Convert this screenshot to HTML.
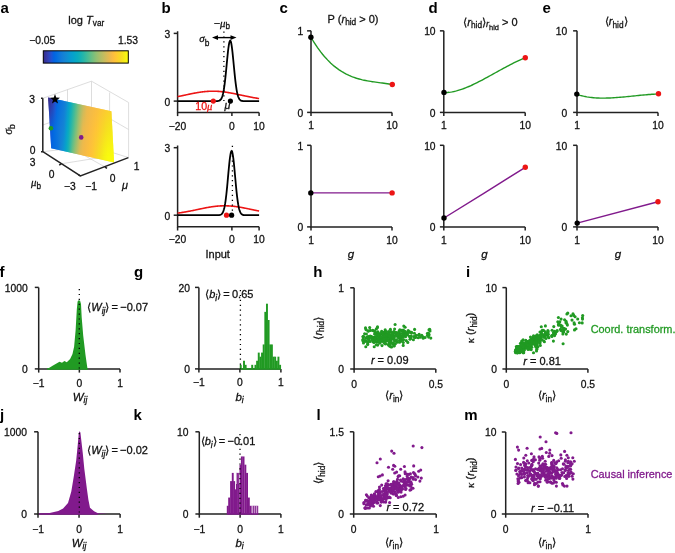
<!DOCTYPE html><html><head><meta charset="utf-8"><style>html,body{margin:0;padding:0;background:#fff;}svg{display:block;}text{font-family:"Liberation Sans", Arial, sans-serif;}text[fill="#111"]{stroke:#111;stroke-width:0.28px;}text[fill="#219a23"]{stroke:#219a23;stroke-width:0.28px;}text[fill="#811a8c"]{stroke:#811a8c;stroke-width:0.28px;}text[fill="#ec1515"]{stroke:#ec1515;stroke-width:0.28px;}</style></head><body>
<svg width="675" height="553" viewBox="0 0 675 553">
<defs><linearGradient id="cb" x1="0" y1="0" x2="1" y2="0"><stop offset="0.000" stop-color="#352a87"/><stop offset="0.031" stop-color="#3637a0"/><stop offset="0.062" stop-color="#3243ba"/><stop offset="0.094" stop-color="#2053d4"/><stop offset="0.125" stop-color="#0363e1"/><stop offset="0.156" stop-color="#046de0"/><stop offset="0.188" stop-color="#0d75dc"/><stop offset="0.219" stop-color="#127dd8"/><stop offset="0.250" stop-color="#1485d4"/><stop offset="0.281" stop-color="#108ed2"/><stop offset="0.312" stop-color="#0998d1"/><stop offset="0.344" stop-color="#06a0cd"/><stop offset="0.375" stop-color="#06a7c6"/><stop offset="0.406" stop-color="#0aacbe"/><stop offset="0.438" stop-color="#15b1b4"/><stop offset="0.469" stop-color="#25b5a9"/><stop offset="0.500" stop-color="#38b99e"/><stop offset="0.531" stop-color="#4dbc92"/><stop offset="0.562" stop-color="#65be86"/><stop offset="0.594" stop-color="#7cbf7b"/><stop offset="0.625" stop-color="#92bf73"/><stop offset="0.656" stop-color="#a5be6b"/><stop offset="0.688" stop-color="#b7bd64"/><stop offset="0.719" stop-color="#c8bc5d"/><stop offset="0.750" stop-color="#d9ba56"/><stop offset="0.781" stop-color="#e9b94e"/><stop offset="0.812" stop-color="#f8bb44"/><stop offset="0.844" stop-color="#ffc337"/><stop offset="0.875" stop-color="#fcce2e"/><stop offset="0.906" stop-color="#f7d826"/><stop offset="0.938" stop-color="#f5e41d"/><stop offset="0.969" stop-color="#f6f313"/><stop offset="1.000" stop-color="#f9fb0e"/></linearGradient>
<linearGradient id="surf" gradientUnits="userSpaceOnUse" x1="46" y1="110" x2="116" y2="138"><stop offset="0.000" stop-color="#352a87"/><stop offset="0.031" stop-color="#3637a0"/><stop offset="0.062" stop-color="#3243ba"/><stop offset="0.094" stop-color="#2053d4"/><stop offset="0.125" stop-color="#0363e1"/><stop offset="0.156" stop-color="#046de0"/><stop offset="0.188" stop-color="#0d75dc"/><stop offset="0.219" stop-color="#127dd8"/><stop offset="0.250" stop-color="#1485d4"/><stop offset="0.281" stop-color="#108ed2"/><stop offset="0.312" stop-color="#0998d1"/><stop offset="0.344" stop-color="#06a0cd"/><stop offset="0.375" stop-color="#06a7c6"/><stop offset="0.406" stop-color="#0aacbe"/><stop offset="0.438" stop-color="#15b1b4"/><stop offset="0.469" stop-color="#25b5a9"/><stop offset="0.500" stop-color="#38b99e"/><stop offset="0.531" stop-color="#4dbc92"/><stop offset="0.562" stop-color="#65be86"/><stop offset="0.594" stop-color="#7cbf7b"/><stop offset="0.625" stop-color="#92bf73"/><stop offset="0.656" stop-color="#a5be6b"/><stop offset="0.688" stop-color="#b7bd64"/><stop offset="0.719" stop-color="#c8bc5d"/><stop offset="0.750" stop-color="#d9ba56"/><stop offset="0.781" stop-color="#e9b94e"/><stop offset="0.812" stop-color="#f8bb44"/><stop offset="0.844" stop-color="#ffc337"/><stop offset="0.875" stop-color="#fcce2e"/><stop offset="0.906" stop-color="#f7d826"/><stop offset="0.938" stop-color="#f5e41d"/><stop offset="0.969" stop-color="#f6f313"/><stop offset="1.000" stop-color="#f9fb0e"/></linearGradient></defs>
<rect width="675" height="553" fill="#fff"/>
<text x="0.5" y="13" font-size="15" font-weight="bold" fill="#000">a</text>
<text x="161.5" y="13" font-size="15" font-weight="bold" fill="#000">b</text>
<text x="279.5" y="13" font-size="15" font-weight="bold" fill="#000">c</text>
<text x="428.5" y="13" font-size="15" font-weight="bold" fill="#000">d</text>
<text x="542.5" y="13" font-size="15" font-weight="bold" fill="#000">e</text>
<text x="-0.5" y="276.5" font-size="15" font-weight="bold" fill="#000">f</text>
<text x="134" y="276.5" font-size="15" font-weight="bold" fill="#000">g</text>
<text x="313.3" y="277" font-size="15" font-weight="bold" fill="#000">h</text>
<text x="466" y="277" font-size="15" font-weight="bold" fill="#000">i</text>
<text x="0" y="420" font-size="15" font-weight="bold" fill="#000">j</text>
<text x="133.5" y="420" font-size="15" font-weight="bold" fill="#000">k</text>
<text x="316.4" y="420" font-size="15" font-weight="bold" fill="#000">l</text>
<text x="464.2" y="420" font-size="15" font-weight="bold" fill="#000">m</text>
<text x="68.3" y="23.6" font-size="11" fill="#111">log <tspan font-style="italic">T</tspan><tspan font-size="8.2" dy="2.6">var</tspan></text>
<text x="42.3" y="44" font-size="10.3" text-anchor="middle" fill="#111" >−0.05</text>
<text x="128" y="44" font-size="10.3" text-anchor="middle" fill="#111" >1.53</text>
<rect x="43.3" y="50.8" width="85" height="12.3" fill="url(#cb)" stroke="#000" stroke-width="1"/>
<g stroke="#d4d4d4" stroke-width="0.8" fill="none"><path d="M42.8,98.3L91.5,81.2L128.6,102.5"/><path d="M91.5,81.2V146"/><path d="M128.6,102.5V157.6"/><path d="M67.5,89.5V146"/><path d="M109.6,92.5V156"/><path d="M42.8,125L91.5,108L128.6,129.5"/><path d="M42.8,151.7L91.5,146L128.6,157.6"/><path d="M61.2,163.8L110,156"/><path d="M105,167L67.5,146"/></g>
<clipPath id="sclip"><polygon points="48.10,97.50 111.40,111.20 114.10,162.60 51.20,148.30"/></clipPath>
<defs><linearGradient id="sg0" x1="0" y1="0" x2="0" y2="1"><stop offset="0" stop-color="#352a87"/><stop offset="0.5" stop-color="#1a56d6"/><stop offset="1" stop-color="#0860df"/></linearGradient><linearGradient id="sg1" x1="0" y1="0" x2="0" y2="1"><stop offset="0" stop-color="#352c8b"/><stop offset="0.5" stop-color="#1a56d6"/><stop offset="1" stop-color="#0860df"/></linearGradient><linearGradient id="sg2" x1="0" y1="0" x2="0" y2="1"><stop offset="0" stop-color="#363093"/><stop offset="0.5" stop-color="#1a56d6"/><stop offset="1" stop-color="#0860df"/></linearGradient><linearGradient id="sg3" x1="0" y1="0" x2="0" y2="1"><stop offset="0" stop-color="#36349b"/><stop offset="0.5" stop-color="#1559d9"/><stop offset="1" stop-color="#0462e0"/></linearGradient><linearGradient id="sg4" x1="0" y1="0" x2="0" y2="1"><stop offset="0" stop-color="#3638a3"/><stop offset="0.5" stop-color="#0a5fde"/><stop offset="1" stop-color="#0365e1"/></linearGradient><linearGradient id="sg5" x1="0" y1="0" x2="0" y2="1"><stop offset="0" stop-color="#343cab"/><stop offset="0.5" stop-color="#0364e1"/><stop offset="1" stop-color="#0467e1"/></linearGradient><linearGradient id="sg6" x1="0" y1="0" x2="0" y2="1"><stop offset="0" stop-color="#3242b8"/><stop offset="0.5" stop-color="#0468e0"/><stop offset="1" stop-color="#046ae0"/></linearGradient><linearGradient id="sg7" x1="0" y1="0" x2="0" y2="1"><stop offset="0" stop-color="#284cc8"/><stop offset="0.5" stop-color="#046ce0"/><stop offset="1" stop-color="#046ce0"/></linearGradient><linearGradient id="sg8" x1="0" y1="0" x2="0" y2="1"><stop offset="0" stop-color="#1a56d6"/><stop offset="0.5" stop-color="#066fdf"/><stop offset="1" stop-color="#066edf"/></linearGradient><linearGradient id="sg9" x1="0" y1="0" x2="0" y2="1"><stop offset="0" stop-color="#0860df"/><stop offset="0.5" stop-color="#0972de"/><stop offset="1" stop-color="#0870df"/></linearGradient><linearGradient id="sg10" x1="0" y1="0" x2="0" y2="1"><stop offset="0" stop-color="#0468e0"/><stop offset="0.5" stop-color="#0c74dd"/><stop offset="1" stop-color="#0a72de"/></linearGradient><linearGradient id="sg11" x1="0" y1="0" x2="0" y2="1"><stop offset="0" stop-color="#046ce0"/><stop offset="0.5" stop-color="#0e77db"/><stop offset="1" stop-color="#0e76dc"/></linearGradient><linearGradient id="sg12" x1="0" y1="0" x2="0" y2="1"><stop offset="0" stop-color="#076fdf"/><stop offset="0.5" stop-color="#1079da"/><stop offset="1" stop-color="#127cd8"/></linearGradient><linearGradient id="sg13" x1="0" y1="0" x2="0" y2="1"><stop offset="0" stop-color="#0972de"/><stop offset="0.5" stop-color="#127cd8"/><stop offset="1" stop-color="#1482d5"/></linearGradient><linearGradient id="sg14" x1="0" y1="0" x2="0" y2="1"><stop offset="0" stop-color="#0c74dd"/><stop offset="0.5" stop-color="#137ed7"/><stop offset="1" stop-color="#1289d3"/></linearGradient><linearGradient id="sg15" x1="0" y1="0" x2="0" y2="1"><stop offset="0" stop-color="#0e77db"/><stop offset="0.5" stop-color="#1381d6"/><stop offset="1" stop-color="#0f90d2"/></linearGradient><linearGradient id="sg16" x1="0" y1="0" x2="0" y2="1"><stop offset="0" stop-color="#1079da"/><stop offset="0.5" stop-color="#1483d5"/><stop offset="1" stop-color="#0999d1"/></linearGradient><linearGradient id="sg17" x1="0" y1="0" x2="0" y2="1"><stop offset="0" stop-color="#127cd8"/><stop offset="0.5" stop-color="#128ad3"/><stop offset="1" stop-color="#06a1cd"/></linearGradient><linearGradient id="sg18" x1="0" y1="0" x2="0" y2="1"><stop offset="0" stop-color="#1381d6"/><stop offset="0.5" stop-color="#0c94d1"/><stop offset="1" stop-color="#06a7c6"/></linearGradient><linearGradient id="sg19" x1="0" y1="0" x2="0" y2="1"><stop offset="0" stop-color="#1289d3"/><stop offset="0.5" stop-color="#079ece"/><stop offset="1" stop-color="#0aacbe"/></linearGradient><linearGradient id="sg20" x1="0" y1="0" x2="0" y2="1"><stop offset="0" stop-color="#0d93d2"/><stop offset="0.5" stop-color="#06a5c8"/><stop offset="1" stop-color="#15b0b5"/></linearGradient><linearGradient id="sg21" x1="0" y1="0" x2="0" y2="1"><stop offset="0" stop-color="#079ccf"/><stop offset="0.5" stop-color="#09abbf"/><stop offset="1" stop-color="#23b4ab"/></linearGradient><linearGradient id="sg22" x1="0" y1="0" x2="0" y2="1"><stop offset="0" stop-color="#06a3ca"/><stop offset="0.5" stop-color="#14b0b5"/><stop offset="1" stop-color="#35b8a0"/></linearGradient><linearGradient id="sg23" x1="0" y1="0" x2="0" y2="1"><stop offset="0" stop-color="#08a9c2"/><stop offset="0.5" stop-color="#21b4ac"/><stop offset="1" stop-color="#49bb94"/></linearGradient><linearGradient id="sg24" x1="0" y1="0" x2="0" y2="1"><stop offset="0" stop-color="#0faeba"/><stop offset="0.5" stop-color="#2eb7a4"/><stop offset="1" stop-color="#5fbe89"/></linearGradient><linearGradient id="sg25" x1="0" y1="0" x2="0" y2="1"><stop offset="0" stop-color="#1cb2b0"/><stop offset="0.5" stop-color="#3dba9b"/><stop offset="1" stop-color="#76bf7e"/></linearGradient><linearGradient id="sg26" x1="0" y1="0" x2="0" y2="1"><stop offset="0" stop-color="#28b6a8"/><stop offset="0.5" stop-color="#4dbc92"/><stop offset="1" stop-color="#89bf76"/></linearGradient><linearGradient id="sg27" x1="0" y1="0" x2="0" y2="1"><stop offset="0" stop-color="#35b89f"/><stop offset="0.5" stop-color="#5ebe89"/><stop offset="1" stop-color="#9abf6f"/></linearGradient><linearGradient id="sg28" x1="0" y1="0" x2="0" y2="1"><stop offset="0" stop-color="#45bb96"/><stop offset="0.5" stop-color="#70bf81"/><stop offset="1" stop-color="#aabe69"/></linearGradient><linearGradient id="sg29" x1="0" y1="0" x2="0" y2="1"><stop offset="0" stop-color="#55bd8d"/><stop offset="0.5" stop-color="#80bf7a"/><stop offset="1" stop-color="#b9bd63"/></linearGradient><linearGradient id="sg30" x1="0" y1="0" x2="0" y2="1"><stop offset="0" stop-color="#67be85"/><stop offset="0.5" stop-color="#93bf72"/><stop offset="1" stop-color="#c7bc5d"/></linearGradient><linearGradient id="sg31" x1="0" y1="0" x2="0" y2="1"><stop offset="0" stop-color="#78bf7d"/><stop offset="0.5" stop-color="#a5be6b"/><stop offset="1" stop-color="#d4bb58"/></linearGradient><linearGradient id="sg32" x1="0" y1="0" x2="0" y2="1"><stop offset="0" stop-color="#88bf76"/><stop offset="0.5" stop-color="#b5bd65"/><stop offset="1" stop-color="#e2ba52"/></linearGradient><linearGradient id="sg33" x1="0" y1="0" x2="0" y2="1"><stop offset="0" stop-color="#97bf70"/><stop offset="0.5" stop-color="#c4bc5e"/><stop offset="1" stop-color="#eab94e"/></linearGradient><linearGradient id="sg34" x1="0" y1="0" x2="0" y2="1"><stop offset="0" stop-color="#a5be6b"/><stop offset="0.5" stop-color="#d3bb58"/><stop offset="1" stop-color="#edb94c"/></linearGradient><linearGradient id="sg35" x1="0" y1="0" x2="0" y2="1"><stop offset="0" stop-color="#b2bd66"/><stop offset="0.5" stop-color="#e1ba52"/><stop offset="1" stop-color="#f0ba4a"/></linearGradient><linearGradient id="sg36" x1="0" y1="0" x2="0" y2="1"><stop offset="0" stop-color="#bfbc61"/><stop offset="0.5" stop-color="#eab94e"/><stop offset="1" stop-color="#f2ba48"/></linearGradient><linearGradient id="sg37" x1="0" y1="0" x2="0" y2="1"><stop offset="0" stop-color="#cbbb5c"/><stop offset="0.5" stop-color="#ecb94c"/><stop offset="1" stop-color="#f5ba46"/></linearGradient><linearGradient id="sg38" x1="0" y1="0" x2="0" y2="1"><stop offset="0" stop-color="#d7ba57"/><stop offset="0.5" stop-color="#efba4a"/><stop offset="1" stop-color="#f8ba44"/></linearGradient><linearGradient id="sg39" x1="0" y1="0" x2="0" y2="1"><stop offset="0" stop-color="#e3b951"/><stop offset="0.5" stop-color="#f1ba49"/><stop offset="1" stop-color="#f9bc42"/></linearGradient><linearGradient id="sg40" x1="0" y1="0" x2="0" y2="1"><stop offset="0" stop-color="#e9b94e"/><stop offset="0.5" stop-color="#f3ba47"/><stop offset="1" stop-color="#fbbe3f"/></linearGradient><linearGradient id="sg41" x1="0" y1="0" x2="0" y2="1"><stop offset="0" stop-color="#ebb94d"/><stop offset="0.5" stop-color="#f6ba46"/><stop offset="1" stop-color="#fcbf3d"/></linearGradient><linearGradient id="sg42" x1="0" y1="0" x2="0" y2="1"><stop offset="0" stop-color="#edb94c"/><stop offset="0.5" stop-color="#f8bb44"/><stop offset="1" stop-color="#fdc13b"/></linearGradient><linearGradient id="sg43" x1="0" y1="0" x2="0" y2="1"><stop offset="0" stop-color="#eeba4b"/><stop offset="0.5" stop-color="#f9bc42"/><stop offset="1" stop-color="#fec238"/></linearGradient><linearGradient id="sg44" x1="0" y1="0" x2="0" y2="1"><stop offset="0" stop-color="#f0ba49"/><stop offset="0.5" stop-color="#fabd40"/><stop offset="1" stop-color="#fec436"/></linearGradient><linearGradient id="sg45" x1="0" y1="0" x2="0" y2="1"><stop offset="0" stop-color="#f2ba48"/><stop offset="0.5" stop-color="#fbbf3e"/><stop offset="1" stop-color="#fec734"/></linearGradient><linearGradient id="sg46" x1="0" y1="0" x2="0" y2="1"><stop offset="0" stop-color="#f4ba47"/><stop offset="0.5" stop-color="#fcc03c"/><stop offset="1" stop-color="#fdca31"/></linearGradient><linearGradient id="sg47" x1="0" y1="0" x2="0" y2="1"><stop offset="0" stop-color="#f5ba46"/><stop offset="0.5" stop-color="#fdc13a"/><stop offset="1" stop-color="#fcce2e"/></linearGradient><linearGradient id="sg48" x1="0" y1="0" x2="0" y2="1"><stop offset="0" stop-color="#f7ba45"/><stop offset="0.5" stop-color="#fec338"/><stop offset="1" stop-color="#fad12b"/></linearGradient><linearGradient id="sg49" x1="0" y1="0" x2="0" y2="1"><stop offset="0" stop-color="#f8bb44"/><stop offset="0.5" stop-color="#fec436"/><stop offset="1" stop-color="#f9d429"/></linearGradient><linearGradient id="sg50" x1="0" y1="0" x2="0" y2="1"><stop offset="0" stop-color="#f9bc42"/><stop offset="0.5" stop-color="#fec734"/><stop offset="1" stop-color="#f7d826"/></linearGradient><linearGradient id="sg51" x1="0" y1="0" x2="0" y2="1"><stop offset="0" stop-color="#fabd41"/><stop offset="0.5" stop-color="#fdc932"/><stop offset="1" stop-color="#f7dc23"/></linearGradient><linearGradient id="sg52" x1="0" y1="0" x2="0" y2="1"><stop offset="0" stop-color="#fbbe3f"/><stop offset="0.5" stop-color="#fccc2f"/><stop offset="1" stop-color="#f6df20"/></linearGradient><linearGradient id="sg53" x1="0" y1="0" x2="0" y2="1"><stop offset="0" stop-color="#fbbf3e"/><stop offset="0.5" stop-color="#fcce2d"/><stop offset="1" stop-color="#f5e31e"/></linearGradient><linearGradient id="sg54" x1="0" y1="0" x2="0" y2="1"><stop offset="0" stop-color="#fcbf3d"/><stop offset="0.5" stop-color="#fad12b"/><stop offset="1" stop-color="#f5e71b"/></linearGradient><linearGradient id="sg55" x1="0" y1="0" x2="0" y2="1"><stop offset="0" stop-color="#fdc03b"/><stop offset="0.5" stop-color="#f9d429"/><stop offset="1" stop-color="#f5eb18"/></linearGradient><linearGradient id="sg56" x1="0" y1="0" x2="0" y2="1"><stop offset="0" stop-color="#fdc13a"/><stop offset="0.5" stop-color="#f8d627"/><stop offset="1" stop-color="#f6ef16"/></linearGradient><linearGradient id="sg57" x1="0" y1="0" x2="0" y2="1"><stop offset="0" stop-color="#fec238"/><stop offset="0.5" stop-color="#f7d925"/><stop offset="1" stop-color="#f6f313"/></linearGradient><linearGradient id="sg58" x1="0" y1="0" x2="0" y2="1"><stop offset="0" stop-color="#ffc337"/><stop offset="0.5" stop-color="#f6dc23"/><stop offset="1" stop-color="#f7f512"/></linearGradient><linearGradient id="sg59" x1="0" y1="0" x2="0" y2="1"><stop offset="0" stop-color="#fec536"/><stop offset="0.5" stop-color="#f6de21"/><stop offset="1" stop-color="#f8f710"/></linearGradient><linearGradient id="sg60" x1="0" y1="0" x2="0" y2="1"><stop offset="0" stop-color="#fec635"/><stop offset="0.5" stop-color="#f5e020"/><stop offset="1" stop-color="#f9fa0e"/></linearGradient><linearGradient id="sg61" x1="0" y1="0" x2="0" y2="1"><stop offset="0" stop-color="#fec734"/><stop offset="0.5" stop-color="#f5e21f"/><stop offset="1" stop-color="#f9fb0e"/></linearGradient><linearGradient id="sg62" x1="0" y1="0" x2="0" y2="1"><stop offset="0" stop-color="#fdc833"/><stop offset="0.5" stop-color="#f5e31d"/><stop offset="1" stop-color="#f9fb0e"/></linearGradient><linearGradient id="sg63" x1="0" y1="0" x2="0" y2="1"><stop offset="0" stop-color="#fdc932"/><stop offset="0.5" stop-color="#f5e51c"/><stop offset="1" stop-color="#f9fb0e"/></linearGradient><linearGradient id="sg64" x1="0" y1="0" x2="0" y2="1"><stop offset="0" stop-color="#fdca31"/><stop offset="0.5" stop-color="#f5e71b"/><stop offset="1" stop-color="#f9fb0e"/></linearGradient><linearGradient id="sg65" x1="0" y1="0" x2="0" y2="1"><stop offset="0" stop-color="#fdca31"/><stop offset="0.5" stop-color="#f5e919"/><stop offset="1" stop-color="#f9fb0e"/></linearGradient><linearGradient id="sg66" x1="0" y1="0" x2="0" y2="1"><stop offset="0" stop-color="#fdcb30"/><stop offset="0.5" stop-color="#f5eb18"/><stop offset="1" stop-color="#f9fb0e"/></linearGradient><linearGradient id="sg67" x1="0" y1="0" x2="0" y2="1"><stop offset="0" stop-color="#fccc30"/><stop offset="0.5" stop-color="#f6ee17"/><stop offset="1" stop-color="#f9fb0e"/></linearGradient></defs>
<g clip-path="url(#sclip)"><rect x="47.00" y="100" width="1.7" height="56" fill="url(#sg0)"/><rect x="48.00" y="100" width="1.7" height="56" fill="url(#sg1)"/><rect x="49.00" y="100" width="1.7" height="56" fill="url(#sg2)"/><rect x="50.00" y="100" width="1.7" height="56" fill="url(#sg3)"/><rect x="51.00" y="100" width="1.7" height="56" fill="url(#sg4)"/><rect x="52.00" y="100" width="1.7" height="56" fill="url(#sg5)"/><rect x="53.00" y="100" width="1.7" height="56" fill="url(#sg6)"/><rect x="54.00" y="100" width="1.7" height="56" fill="url(#sg7)"/><rect x="55.00" y="100" width="1.7" height="56" fill="url(#sg8)"/><rect x="56.00" y="100" width="1.7" height="56" fill="url(#sg9)"/><rect x="57.00" y="100" width="1.7" height="56" fill="url(#sg10)"/><rect x="58.00" y="100" width="1.7" height="56" fill="url(#sg11)"/><rect x="59.00" y="100" width="1.7" height="56" fill="url(#sg12)"/><rect x="60.00" y="100" width="1.7" height="56" fill="url(#sg13)"/><rect x="61.00" y="100" width="1.7" height="56" fill="url(#sg14)"/><rect x="62.00" y="100" width="1.7" height="56" fill="url(#sg15)"/><rect x="63.00" y="100" width="1.7" height="56" fill="url(#sg16)"/><rect x="64.00" y="100" width="1.7" height="56" fill="url(#sg17)"/><rect x="65.00" y="100" width="1.7" height="56" fill="url(#sg18)"/><rect x="66.00" y="100" width="1.7" height="56" fill="url(#sg19)"/><rect x="67.00" y="100" width="1.7" height="56" fill="url(#sg20)"/><rect x="68.00" y="100" width="1.7" height="56" fill="url(#sg21)"/><rect x="69.00" y="100" width="1.7" height="56" fill="url(#sg22)"/><rect x="70.00" y="100" width="1.7" height="56" fill="url(#sg23)"/><rect x="71.00" y="100" width="1.7" height="56" fill="url(#sg24)"/><rect x="72.00" y="100" width="1.7" height="56" fill="url(#sg25)"/><rect x="73.00" y="100" width="1.7" height="56" fill="url(#sg26)"/><rect x="74.00" y="100" width="1.7" height="56" fill="url(#sg27)"/><rect x="75.00" y="100" width="1.7" height="56" fill="url(#sg28)"/><rect x="76.00" y="100" width="1.7" height="56" fill="url(#sg29)"/><rect x="77.00" y="100" width="1.7" height="56" fill="url(#sg30)"/><rect x="78.00" y="100" width="1.7" height="56" fill="url(#sg31)"/><rect x="79.00" y="100" width="1.7" height="56" fill="url(#sg32)"/><rect x="80.00" y="100" width="1.7" height="56" fill="url(#sg33)"/><rect x="81.00" y="100" width="1.7" height="56" fill="url(#sg34)"/><rect x="82.00" y="100" width="1.7" height="56" fill="url(#sg35)"/><rect x="83.00" y="100" width="1.7" height="56" fill="url(#sg36)"/><rect x="84.00" y="100" width="1.7" height="56" fill="url(#sg37)"/><rect x="85.00" y="100" width="1.7" height="56" fill="url(#sg38)"/><rect x="86.00" y="100" width="1.7" height="56" fill="url(#sg39)"/><rect x="87.00" y="100" width="1.7" height="56" fill="url(#sg40)"/><rect x="88.00" y="100" width="1.7" height="56" fill="url(#sg41)"/><rect x="89.00" y="100" width="1.7" height="56" fill="url(#sg42)"/><rect x="90.00" y="100" width="1.7" height="56" fill="url(#sg43)"/><rect x="91.00" y="100" width="1.7" height="56" fill="url(#sg44)"/><rect x="92.00" y="100" width="1.7" height="56" fill="url(#sg45)"/><rect x="93.00" y="100" width="1.7" height="56" fill="url(#sg46)"/><rect x="94.00" y="100" width="1.7" height="56" fill="url(#sg47)"/><rect x="95.00" y="100" width="1.7" height="56" fill="url(#sg48)"/><rect x="96.00" y="100" width="1.7" height="56" fill="url(#sg49)"/><rect x="97.00" y="100" width="1.7" height="56" fill="url(#sg50)"/><rect x="98.00" y="100" width="1.7" height="56" fill="url(#sg51)"/><rect x="99.00" y="100" width="1.7" height="56" fill="url(#sg52)"/><rect x="100.00" y="100" width="1.7" height="56" fill="url(#sg53)"/><rect x="101.00" y="100" width="1.7" height="56" fill="url(#sg54)"/><rect x="102.00" y="100" width="1.7" height="56" fill="url(#sg55)"/><rect x="103.00" y="100" width="1.7" height="56" fill="url(#sg56)"/><rect x="104.00" y="100" width="1.7" height="56" fill="url(#sg57)"/><rect x="105.00" y="100" width="1.7" height="56" fill="url(#sg58)"/><rect x="106.00" y="100" width="1.7" height="56" fill="url(#sg59)"/><rect x="107.00" y="100" width="1.7" height="56" fill="url(#sg60)"/><rect x="108.00" y="100" width="1.7" height="56" fill="url(#sg61)"/><rect x="109.00" y="100" width="1.7" height="56" fill="url(#sg62)"/><rect x="110.00" y="100" width="1.7" height="56" fill="url(#sg63)"/><rect x="111.00" y="100" width="1.7" height="56" fill="url(#sg64)"/><rect x="112.00" y="100" width="1.7" height="56" fill="url(#sg65)"/><rect x="113.00" y="100" width="1.7" height="56" fill="url(#sg66)"/><rect x="114.00" y="100" width="1.7" height="56" fill="url(#sg67)"/><rect x="47.00" y="95" width="1.7" height="5.2" fill="#352a87"/><rect x="47.00" y="155.8" width="1.7" height="8" fill="#0860df"/><rect x="48.00" y="95" width="1.7" height="5.2" fill="#352c8b"/><rect x="48.00" y="155.8" width="1.7" height="8" fill="#0860df"/><rect x="49.00" y="95" width="1.7" height="5.2" fill="#363093"/><rect x="49.00" y="155.8" width="1.7" height="8" fill="#0860df"/><rect x="50.00" y="95" width="1.7" height="5.2" fill="#36349b"/><rect x="50.00" y="155.8" width="1.7" height="8" fill="#0462e0"/><rect x="51.00" y="95" width="1.7" height="5.2" fill="#3638a3"/><rect x="51.00" y="155.8" width="1.7" height="8" fill="#0365e1"/><rect x="52.00" y="95" width="1.7" height="5.2" fill="#343cab"/><rect x="52.00" y="155.8" width="1.7" height="8" fill="#0467e1"/><rect x="53.00" y="95" width="1.7" height="5.2" fill="#3242b8"/><rect x="53.00" y="155.8" width="1.7" height="8" fill="#046ae0"/><rect x="54.00" y="95" width="1.7" height="5.2" fill="#284cc8"/><rect x="54.00" y="155.8" width="1.7" height="8" fill="#046ce0"/><rect x="55.00" y="95" width="1.7" height="5.2" fill="#1a56d6"/><rect x="55.00" y="155.8" width="1.7" height="8" fill="#066edf"/><rect x="56.00" y="95" width="1.7" height="5.2" fill="#0860df"/><rect x="56.00" y="155.8" width="1.7" height="8" fill="#0870df"/><rect x="57.00" y="95" width="1.7" height="5.2" fill="#0468e0"/><rect x="57.00" y="155.8" width="1.7" height="8" fill="#0a72de"/><rect x="58.00" y="95" width="1.7" height="5.2" fill="#046ce0"/><rect x="58.00" y="155.8" width="1.7" height="8" fill="#0e76dc"/><rect x="59.00" y="95" width="1.7" height="5.2" fill="#076fdf"/><rect x="59.00" y="155.8" width="1.7" height="8" fill="#127cd8"/><rect x="60.00" y="95" width="1.7" height="5.2" fill="#0972de"/><rect x="60.00" y="155.8" width="1.7" height="8" fill="#1482d5"/><rect x="61.00" y="95" width="1.7" height="5.2" fill="#0c74dd"/><rect x="61.00" y="155.8" width="1.7" height="8" fill="#1289d3"/><rect x="62.00" y="95" width="1.7" height="5.2" fill="#0e77db"/><rect x="62.00" y="155.8" width="1.7" height="8" fill="#0f90d2"/><rect x="63.00" y="95" width="1.7" height="5.2" fill="#1079da"/><rect x="63.00" y="155.8" width="1.7" height="8" fill="#0999d1"/><rect x="64.00" y="95" width="1.7" height="5.2" fill="#127cd8"/><rect x="64.00" y="155.8" width="1.7" height="8" fill="#06a1cd"/><rect x="65.00" y="95" width="1.7" height="5.2" fill="#1381d6"/><rect x="65.00" y="155.8" width="1.7" height="8" fill="#06a7c6"/><rect x="66.00" y="95" width="1.7" height="5.2" fill="#1289d3"/><rect x="66.00" y="155.8" width="1.7" height="8" fill="#0aacbe"/><rect x="67.00" y="95" width="1.7" height="5.2" fill="#0d93d2"/><rect x="67.00" y="155.8" width="1.7" height="8" fill="#15b0b5"/><rect x="68.00" y="95" width="1.7" height="5.2" fill="#079ccf"/><rect x="68.00" y="155.8" width="1.7" height="8" fill="#23b4ab"/><rect x="69.00" y="95" width="1.7" height="5.2" fill="#06a3ca"/><rect x="69.00" y="155.8" width="1.7" height="8" fill="#35b8a0"/><rect x="70.00" y="95" width="1.7" height="5.2" fill="#08a9c2"/><rect x="70.00" y="155.8" width="1.7" height="8" fill="#49bb94"/><rect x="71.00" y="95" width="1.7" height="5.2" fill="#0faeba"/><rect x="71.00" y="155.8" width="1.7" height="8" fill="#5fbe89"/><rect x="72.00" y="95" width="1.7" height="5.2" fill="#1cb2b0"/><rect x="72.00" y="155.8" width="1.7" height="8" fill="#76bf7e"/><rect x="73.00" y="95" width="1.7" height="5.2" fill="#28b6a8"/><rect x="73.00" y="155.8" width="1.7" height="8" fill="#89bf76"/><rect x="74.00" y="95" width="1.7" height="5.2" fill="#35b89f"/><rect x="74.00" y="155.8" width="1.7" height="8" fill="#9abf6f"/><rect x="75.00" y="95" width="1.7" height="5.2" fill="#45bb96"/><rect x="75.00" y="155.8" width="1.7" height="8" fill="#aabe69"/><rect x="76.00" y="95" width="1.7" height="5.2" fill="#55bd8d"/><rect x="76.00" y="155.8" width="1.7" height="8" fill="#b9bd63"/><rect x="77.00" y="95" width="1.7" height="5.2" fill="#67be85"/><rect x="77.00" y="155.8" width="1.7" height="8" fill="#c7bc5d"/><rect x="78.00" y="95" width="1.7" height="5.2" fill="#78bf7d"/><rect x="78.00" y="155.8" width="1.7" height="8" fill="#d4bb58"/><rect x="79.00" y="95" width="1.7" height="5.2" fill="#88bf76"/><rect x="79.00" y="155.8" width="1.7" height="8" fill="#e2ba52"/><rect x="80.00" y="95" width="1.7" height="5.2" fill="#97bf70"/><rect x="80.00" y="155.8" width="1.7" height="8" fill="#eab94e"/><rect x="81.00" y="95" width="1.7" height="5.2" fill="#a5be6b"/><rect x="81.00" y="155.8" width="1.7" height="8" fill="#edb94c"/><rect x="82.00" y="95" width="1.7" height="5.2" fill="#b2bd66"/><rect x="82.00" y="155.8" width="1.7" height="8" fill="#f0ba4a"/><rect x="83.00" y="95" width="1.7" height="5.2" fill="#bfbc61"/><rect x="83.00" y="155.8" width="1.7" height="8" fill="#f2ba48"/><rect x="84.00" y="95" width="1.7" height="5.2" fill="#cbbb5c"/><rect x="84.00" y="155.8" width="1.7" height="8" fill="#f5ba46"/><rect x="85.00" y="95" width="1.7" height="5.2" fill="#d7ba57"/><rect x="85.00" y="155.8" width="1.7" height="8" fill="#f8ba44"/><rect x="86.00" y="95" width="1.7" height="5.2" fill="#e3b951"/><rect x="86.00" y="155.8" width="1.7" height="8" fill="#f9bc42"/><rect x="87.00" y="95" width="1.7" height="5.2" fill="#e9b94e"/><rect x="87.00" y="155.8" width="1.7" height="8" fill="#fbbe3f"/><rect x="88.00" y="95" width="1.7" height="5.2" fill="#ebb94d"/><rect x="88.00" y="155.8" width="1.7" height="8" fill="#fcbf3d"/><rect x="89.00" y="95" width="1.7" height="5.2" fill="#edb94c"/><rect x="89.00" y="155.8" width="1.7" height="8" fill="#fdc13b"/><rect x="90.00" y="95" width="1.7" height="5.2" fill="#eeba4b"/><rect x="90.00" y="155.8" width="1.7" height="8" fill="#fec238"/><rect x="91.00" y="95" width="1.7" height="5.2" fill="#f0ba49"/><rect x="91.00" y="155.8" width="1.7" height="8" fill="#fec436"/><rect x="92.00" y="95" width="1.7" height="5.2" fill="#f2ba48"/><rect x="92.00" y="155.8" width="1.7" height="8" fill="#fec734"/><rect x="93.00" y="95" width="1.7" height="5.2" fill="#f4ba47"/><rect x="93.00" y="155.8" width="1.7" height="8" fill="#fdca31"/><rect x="94.00" y="95" width="1.7" height="5.2" fill="#f5ba46"/><rect x="94.00" y="155.8" width="1.7" height="8" fill="#fcce2e"/><rect x="95.00" y="95" width="1.7" height="5.2" fill="#f7ba45"/><rect x="95.00" y="155.8" width="1.7" height="8" fill="#fad12b"/><rect x="96.00" y="95" width="1.7" height="5.2" fill="#f8bb44"/><rect x="96.00" y="155.8" width="1.7" height="8" fill="#f9d429"/><rect x="97.00" y="95" width="1.7" height="5.2" fill="#f9bc42"/><rect x="97.00" y="155.8" width="1.7" height="8" fill="#f7d826"/><rect x="98.00" y="95" width="1.7" height="5.2" fill="#fabd41"/><rect x="98.00" y="155.8" width="1.7" height="8" fill="#f7dc23"/><rect x="99.00" y="95" width="1.7" height="5.2" fill="#fbbe3f"/><rect x="99.00" y="155.8" width="1.7" height="8" fill="#f6df20"/><rect x="100.00" y="95" width="1.7" height="5.2" fill="#fbbf3e"/><rect x="100.00" y="155.8" width="1.7" height="8" fill="#f5e31e"/><rect x="101.00" y="95" width="1.7" height="5.2" fill="#fcbf3d"/><rect x="101.00" y="155.8" width="1.7" height="8" fill="#f5e71b"/><rect x="102.00" y="95" width="1.7" height="5.2" fill="#fdc03b"/><rect x="102.00" y="155.8" width="1.7" height="8" fill="#f5eb18"/><rect x="103.00" y="95" width="1.7" height="5.2" fill="#fdc13a"/><rect x="103.00" y="155.8" width="1.7" height="8" fill="#f6ef16"/><rect x="104.00" y="95" width="1.7" height="5.2" fill="#fec238"/><rect x="104.00" y="155.8" width="1.7" height="8" fill="#f6f313"/><rect x="105.00" y="95" width="1.7" height="5.2" fill="#ffc337"/><rect x="105.00" y="155.8" width="1.7" height="8" fill="#f7f512"/><rect x="106.00" y="95" width="1.7" height="5.2" fill="#fec536"/><rect x="106.00" y="155.8" width="1.7" height="8" fill="#f8f710"/><rect x="107.00" y="95" width="1.7" height="5.2" fill="#fec635"/><rect x="107.00" y="155.8" width="1.7" height="8" fill="#f9fa0e"/><rect x="108.00" y="95" width="1.7" height="5.2" fill="#fec734"/><rect x="108.00" y="155.8" width="1.7" height="8" fill="#f9fb0e"/><rect x="109.00" y="95" width="1.7" height="5.2" fill="#fdc833"/><rect x="109.00" y="155.8" width="1.7" height="8" fill="#f9fb0e"/><rect x="110.00" y="95" width="1.7" height="5.2" fill="#fdc932"/><rect x="110.00" y="155.8" width="1.7" height="8" fill="#f9fb0e"/><rect x="111.00" y="95" width="1.7" height="5.2" fill="#fdca31"/><rect x="111.00" y="155.8" width="1.7" height="8" fill="#f9fb0e"/><rect x="112.00" y="95" width="1.7" height="5.2" fill="#fdca31"/><rect x="112.00" y="155.8" width="1.7" height="8" fill="#f9fb0e"/><rect x="113.00" y="95" width="1.7" height="5.2" fill="#fdcb30"/><rect x="113.00" y="155.8" width="1.7" height="8" fill="#f9fb0e"/><rect x="114.00" y="95" width="1.7" height="5.2" fill="#fccc30"/><rect x="114.00" y="155.8" width="1.7" height="8" fill="#f9fb0e"/></g>
<path d="M42.8,98.3V151.7L80.4,175.9L128.4,157.6" fill="none" stroke="#222" stroke-width="1.5"/>
<path d="M42.8,98.3h-1.8M42.8,151.7h-1.8M61.2,163.8l-2,1.3M105,167l2,1.3M80.4,175.9l-2,-1" stroke="#222" stroke-width="1.5"/>
<text x="32.2" y="102.7" font-size="10.3" text-anchor="middle" fill="#111" >3</text>
<text x="32.7" y="154" font-size="10.3" text-anchor="middle" fill="#111" >0</text>
<text x="32.7" y="165.6" font-size="10.3" text-anchor="middle" fill="#111" >3</text>
<text x="51.7" y="177.6" font-size="10.3" text-anchor="middle" fill="#111" >0</text>
<text x="69.8" y="189.6" font-size="10.3" text-anchor="middle" fill="#111" >−3</text>
<text x="91" y="189.6" font-size="10.3" text-anchor="middle" fill="#111" >−1</text>
<text x="112.7" y="181.6" font-size="10.3" text-anchor="middle" fill="#111" >0</text>
<text x="136.5" y="170" font-size="10.3" text-anchor="middle" fill="#111" >1</text>
<text x="31" y="186.3" font-size="10.8" fill="#111"><tspan font-family="Liberation Serif" font-style="italic">μ</tspan><tspan font-size="8.2" dy="2.7">b</tspan></text>
<text x="122" y="189.2" font-size="10.8" fill="#111" font-family="Liberation Serif" font-style="italic">μ</text>
<text transform="translate(12.4,134.6) rotate(-90)" font-size="11.5" fill="#111"><tspan font-family="Liberation Serif" font-style="italic">σ</tspan><tspan font-size="8.6" dy="3">b</tspan></text>
<polygon points="55.00,94.10 56.23,97.60 59.95,97.69 57.00,99.95 58.06,103.51 55.00,101.40 51.94,103.51 53.00,99.95 50.05,97.69 53.77,97.60" fill="#000"/>
<circle cx="50.9" cy="128.2" r="2.3" fill="#219a23"/>
<circle cx="81.2" cy="137.4" r="2.3" fill="#811a8c"/>
<path d="M177.6,31.2V112.4H259.1" fill="none" stroke="#222" stroke-width="1.5"/>
<path d="M177.6,112.4v3.7" stroke="#222" stroke-width="1.5"/>
<text x="177.6" y="129.6" font-size="10.3" text-anchor="middle" fill="#111" >−20</text>
<path d="M231.9,112.4v3.7" stroke="#222" stroke-width="1.5"/>
<text x="231.9" y="129.6" font-size="10.3" text-anchor="middle" fill="#111" >0</text>
<path d="M259.1,112.4v3.7" stroke="#222" stroke-width="1.5"/>
<text x="259.1" y="129.6" font-size="10.3" text-anchor="middle" fill="#111" >10</text>
<path d="M177.6,33.4h-3.9" stroke="#222" stroke-width="1.5"/>
<text x="170.29999999999998" y="37.8" font-size="10.3" text-anchor="end" fill="#111" >3</text>
<path d="M177.6,101.1h-3.9" stroke="#222" stroke-width="1.5"/>
<text x="170.29999999999998" y="105.5" font-size="10.3" text-anchor="end" fill="#111" >0</text>
<path d="M177.60,96.65 L178.01,96.57 L178.42,96.48 L178.83,96.40 L179.24,96.31 L179.65,96.23 L180.06,96.14 L180.47,96.06 L180.88,95.97 L181.29,95.89 L181.70,95.80 L182.11,95.71 L182.51,95.63 L182.92,95.54 L183.33,95.45 L183.74,95.36 L184.15,95.28 L184.56,95.19 L184.97,95.10 L185.38,95.01 L185.79,94.93 L186.20,94.84 L186.61,94.75 L187.02,94.66 L187.43,94.58 L187.84,94.49 L188.25,94.40 L188.66,94.32 L189.07,94.23 L189.48,94.14 L189.89,94.06 L190.30,93.97 L190.71,93.89 L191.12,93.81 L191.52,93.72 L191.93,93.64 L192.34,93.56 L192.75,93.48 L193.16,93.40 L193.57,93.32 L193.98,93.24 L194.39,93.16 L194.80,93.09 L195.21,93.01 L195.62,92.93 L196.03,92.86 L196.44,92.79 L196.85,92.72 L197.26,92.65 L197.67,92.58 L198.08,92.51 L198.49,92.44 L198.90,92.38 L199.31,92.32 L199.72,92.25 L200.13,92.19 L200.53,92.13 L200.94,92.08 L201.35,92.02 L201.76,91.97 L202.17,91.91 L202.58,91.86 L202.99,91.81 L203.40,91.76 L203.81,91.72 L204.22,91.67 L204.63,91.63 L205.04,91.59 L205.45,91.55 L205.86,91.52 L206.27,91.48 L206.68,91.45 L207.09,91.42 L207.50,91.39 L207.91,91.36 L208.32,91.34 L208.73,91.31 L209.14,91.29 L209.54,91.28 L209.95,91.26 L210.36,91.24 L210.77,91.23 L211.18,91.22 L211.59,91.21 L212.00,91.21 L212.41,91.20 L212.82,91.20 L213.23,91.20 L213.64,91.20 L214.05,91.21 L214.46,91.21 L214.87,91.22 L215.28,91.23 L215.69,91.25 L216.10,91.26 L216.51,91.28 L216.92,91.30 L217.33,91.32 L217.74,91.34 L218.15,91.37 L218.55,91.39 L218.96,91.42 L219.37,91.45 L219.78,91.49 L220.19,91.52 L220.60,91.56 L221.01,91.60 L221.42,91.64 L221.83,91.68 L222.24,91.72 L222.65,91.77 L223.06,91.82 L223.47,91.87 L223.88,91.92 L224.29,91.97 L224.70,92.03 L225.11,92.08 L225.52,92.14 L225.93,92.20 L226.34,92.26 L226.75,92.32 L227.16,92.39 L227.56,92.45 L227.97,92.52 L228.38,92.59 L228.79,92.66 L229.20,92.73 L229.61,92.80 L230.02,92.87 L230.43,92.94 L230.84,93.02 L231.25,93.09 L231.66,93.17 L232.07,93.25 L232.48,93.33 L232.89,93.41 L233.30,93.49 L233.71,93.57 L234.12,93.65 L234.53,93.73 L234.94,93.82 L235.35,93.90 L235.76,93.98 L236.17,94.07 L236.57,94.15 L236.98,94.24 L237.39,94.33 L237.80,94.41 L238.21,94.50 L238.62,94.59 L239.03,94.67 L239.44,94.76 L239.85,94.85 L240.26,94.94 L240.67,95.02 L241.08,95.11 L241.49,95.20 L241.90,95.29 L242.31,95.38 L242.72,95.46 L243.13,95.55 L243.54,95.64 L243.95,95.73 L244.36,95.81 L244.77,95.90 L245.18,95.98 L245.58,96.07 L245.99,96.16 L246.40,96.24 L246.81,96.33 L247.22,96.41 L247.63,96.49 L248.04,96.58 L248.45,96.66 L248.86,96.74 L249.27,96.82 L249.68,96.90 L250.09,96.98 L250.50,97.06 L250.91,97.14 L251.32,97.22 L251.73,97.30 L252.14,97.37 L252.55,97.45 L252.96,97.52 L253.37,97.60 L253.78,97.67 L254.19,97.74 L254.59,97.82 L255.00,97.89 L255.41,97.96 L255.82,98.03 L256.23,98.09 L256.64,98.16 L257.05,98.23 L257.46,98.29 L257.87,98.36 L258.28,98.42 L258.69,98.49 L259.10,98.55" fill="none" stroke="#ec1515" stroke-width="1.6"/>
<path d="M177.60,101.10 L178.01,101.10 L178.42,101.10 L178.83,101.10 L179.24,101.10 L179.65,101.10 L180.06,101.10 L180.47,101.10 L180.88,101.10 L181.29,101.10 L181.70,101.10 L182.11,101.10 L182.51,101.10 L182.92,101.10 L183.33,101.10 L183.74,101.10 L184.15,101.10 L184.56,101.10 L184.97,101.10 L185.38,101.10 L185.79,101.10 L186.20,101.10 L186.61,101.10 L187.02,101.10 L187.43,101.10 L187.84,101.10 L188.25,101.10 L188.66,101.10 L189.07,101.10 L189.48,101.10 L189.89,101.10 L190.30,101.10 L190.71,101.10 L191.12,101.10 L191.52,101.10 L191.93,101.10 L192.34,101.10 L192.75,101.10 L193.16,101.10 L193.57,101.10 L193.98,101.10 L194.39,101.10 L194.80,101.10 L195.21,101.10 L195.62,101.10 L196.03,101.10 L196.44,101.10 L196.85,101.10 L197.26,101.10 L197.67,101.10 L198.08,101.10 L198.49,101.10 L198.90,101.10 L199.31,101.10 L199.72,101.10 L200.13,101.10 L200.53,101.10 L200.94,101.10 L201.35,101.10 L201.76,101.10 L202.17,101.10 L202.58,101.10 L202.99,101.10 L203.40,101.10 L203.81,101.10 L204.22,101.10 L204.63,101.10 L205.04,101.10 L205.45,101.10 L205.86,101.10 L206.27,101.10 L206.68,101.10 L207.09,101.10 L207.50,101.10 L207.91,101.10 L208.32,101.10 L208.73,101.10 L209.14,101.10 L209.54,101.10 L209.95,101.10 L210.36,101.10 L210.77,101.10 L211.18,101.10 L211.59,101.10 L212.00,101.10 L212.41,101.10 L212.82,101.10 L213.23,101.10 L213.64,101.10 L214.05,101.10 L214.46,101.10 L214.87,101.10 L215.28,101.09 L215.69,101.09 L216.10,101.08 L216.51,101.07 L216.92,101.05 L217.33,101.03 L217.74,100.99 L218.15,100.94 L218.55,100.86 L218.96,100.75 L219.37,100.59 L219.78,100.38 L220.19,100.08 L220.60,99.69 L221.01,99.17 L221.42,98.50 L221.83,97.63 L222.24,96.54 L222.65,95.19 L223.06,93.55 L223.47,91.58 L223.88,89.26 L224.29,86.57 L224.70,83.52 L225.11,80.12 L225.52,76.39 L225.93,72.40 L226.34,68.22 L226.75,63.94 L227.16,59.67 L227.56,55.55 L227.97,51.69 L228.38,48.24 L228.79,45.31 L229.20,43.03 L229.61,41.47 L230.02,40.70 L230.43,40.75 L230.84,41.63 L231.25,43.29 L231.66,45.66 L232.07,48.66 L232.48,52.18 L232.89,56.08 L233.30,60.23 L233.71,64.50 L234.12,68.77 L234.53,72.94 L234.94,76.90 L235.35,80.58 L235.76,83.94 L236.17,86.95 L236.57,89.59 L236.98,91.86 L237.39,93.79 L237.80,95.39 L238.21,96.70 L238.62,97.76 L239.03,98.59 L239.44,99.25 L239.85,99.75 L240.26,100.13 L240.67,100.41 L241.08,100.62 L241.49,100.77 L241.90,100.87 L242.31,100.95 L242.72,101.00 L243.13,101.03 L243.54,101.06 L243.95,101.07 L244.36,101.08 L244.77,101.09 L245.18,101.09 L245.58,101.10 L245.99,101.10 L246.40,101.10 L246.81,101.10 L247.22,101.10 L247.63,101.10 L248.04,101.10 L248.45,101.10 L248.86,101.10 L249.27,101.10 L249.68,101.10 L250.09,101.10 L250.50,101.10 L250.91,101.10 L251.32,101.10 L251.73,101.10 L252.14,101.10 L252.55,101.10 L252.96,101.10 L253.37,101.10 L253.78,101.10 L254.19,101.10 L254.59,101.10 L255.00,101.10 L255.41,101.10 L255.82,101.10 L256.23,101.10 L256.64,101.10 L257.05,101.10 L257.46,101.10 L257.87,101.10 L258.28,101.10 L258.69,101.10 L259.10,101.10" fill="none" stroke="#000" stroke-width="1.8"/>
<path d="M223.9,31.5V101.1" stroke="#000" stroke-width="1.3" stroke-dasharray="1.2 3.7"/>
<circle cx="213.3" cy="101.1" r="2.6" fill="#ec1515"/>
<circle cx="230.4" cy="101.1" r="2.6" fill="#000"/>
<path d="M177.6,145.5V226.8H259.1" fill="none" stroke="#222" stroke-width="1.5"/>
<path d="M177.6,226.8v3.7" stroke="#222" stroke-width="1.5"/>
<text x="177.6" y="242.5" font-size="10.3" text-anchor="middle" fill="#111" >−20</text>
<path d="M231.9,226.8v3.7" stroke="#222" stroke-width="1.5"/>
<text x="231.9" y="242.5" font-size="10.3" text-anchor="middle" fill="#111" >0</text>
<path d="M259.1,226.8v3.7" stroke="#222" stroke-width="1.5"/>
<text x="259.1" y="242.5" font-size="10.3" text-anchor="middle" fill="#111" >10</text>
<path d="M177.6,147.7h-3.9" stroke="#222" stroke-width="1.5"/>
<text x="170.29999999999998" y="152.1" font-size="10.3" text-anchor="end" fill="#111" >3</text>
<path d="M177.6,215.2h-3.9" stroke="#222" stroke-width="1.5"/>
<text x="170.29999999999998" y="219.6" font-size="10.3" text-anchor="end" fill="#111" >0</text>
<path d="M177.60,213.13 L178.01,213.08 L178.42,213.02 L178.83,212.97 L179.24,212.91 L179.65,212.85 L180.06,212.79 L180.47,212.73 L180.88,212.67 L181.29,212.60 L181.70,212.54 L182.11,212.48 L182.51,212.41 L182.92,212.34 L183.33,212.28 L183.74,212.21 L184.15,212.14 L184.56,212.07 L184.97,212.00 L185.38,211.93 L185.79,211.85 L186.20,211.78 L186.61,211.71 L187.02,211.63 L187.43,211.56 L187.84,211.48 L188.25,211.40 L188.66,211.32 L189.07,211.25 L189.48,211.17 L189.89,211.09 L190.30,211.01 L190.71,210.93 L191.12,210.84 L191.52,210.76 L191.93,210.68 L192.34,210.60 L192.75,210.51 L193.16,210.43 L193.57,210.34 L193.98,210.26 L194.39,210.17 L194.80,210.09 L195.21,210.00 L195.62,209.92 L196.03,209.83 L196.44,209.74 L196.85,209.66 L197.26,209.57 L197.67,209.48 L198.08,209.40 L198.49,209.31 L198.90,209.23 L199.31,209.14 L199.72,209.05 L200.13,208.97 L200.53,208.88 L200.94,208.80 L201.35,208.71 L201.76,208.63 L202.17,208.54 L202.58,208.46 L202.99,208.38 L203.40,208.29 L203.81,208.21 L204.22,208.13 L204.63,208.05 L205.04,207.97 L205.45,207.89 L205.86,207.81 L206.27,207.74 L206.68,207.66 L207.09,207.58 L207.50,207.51 L207.91,207.44 L208.32,207.36 L208.73,207.29 L209.14,207.22 L209.54,207.15 L209.95,207.09 L210.36,207.02 L210.77,206.96 L211.18,206.89 L211.59,206.83 L212.00,206.77 L212.41,206.71 L212.82,206.65 L213.23,206.60 L213.64,206.54 L214.05,206.49 L214.46,206.44 L214.87,206.39 L215.28,206.34 L215.69,206.30 L216.10,206.25 L216.51,206.21 L216.92,206.17 L217.33,206.14 L217.74,206.10 L218.15,206.06 L218.55,206.03 L218.96,206.00 L219.37,205.97 L219.78,205.95 L220.19,205.92 L220.60,205.90 L221.01,205.88 L221.42,205.86 L221.83,205.85 L222.24,205.84 L222.65,205.82 L223.06,205.82 L223.47,205.81 L223.88,205.80 L224.29,205.80 L224.70,205.80 L225.11,205.80 L225.52,205.81 L225.93,205.81 L226.34,205.82 L226.75,205.83 L227.16,205.84 L227.56,205.86 L227.97,205.87 L228.38,205.89 L228.79,205.91 L229.20,205.94 L229.61,205.96 L230.02,205.99 L230.43,206.02 L230.84,206.05 L231.25,206.08 L231.66,206.12 L232.07,206.15 L232.48,206.19 L232.89,206.23 L233.30,206.28 L233.71,206.32 L234.12,206.37 L234.53,206.41 L234.94,206.46 L235.35,206.52 L235.76,206.57 L236.17,206.62 L236.57,206.68 L236.98,206.74 L237.39,206.80 L237.80,206.86 L238.21,206.92 L238.62,206.99 L239.03,207.05 L239.44,207.12 L239.85,207.19 L240.26,207.26 L240.67,207.33 L241.08,207.40 L241.49,207.47 L241.90,207.54 L242.31,207.62 L242.72,207.70 L243.13,207.77 L243.54,207.85 L243.95,207.93 L244.36,208.01 L244.77,208.09 L245.18,208.17 L245.58,208.25 L245.99,208.33 L246.40,208.42 L246.81,208.50 L247.22,208.58 L247.63,208.67 L248.04,208.75 L248.45,208.84 L248.86,208.92 L249.27,209.01 L249.68,209.09 L250.09,209.18 L250.50,209.27 L250.91,209.35 L251.32,209.44 L251.73,209.53 L252.14,209.61 L252.55,209.70 L252.96,209.78 L253.37,209.87 L253.78,209.96 L254.19,210.04 L254.59,210.13 L255.00,210.21 L255.41,210.30 L255.82,210.38 L256.23,210.47 L256.64,210.55 L257.05,210.64 L257.46,210.72 L257.87,210.80 L258.28,210.88 L258.69,210.96 L259.10,211.04" fill="none" stroke="#ec1515" stroke-width="1.6"/>
<path d="M177.60,215.20 L178.01,215.20 L178.42,215.20 L178.83,215.20 L179.24,215.20 L179.65,215.20 L180.06,215.20 L180.47,215.20 L180.88,215.20 L181.29,215.20 L181.70,215.20 L182.11,215.20 L182.51,215.20 L182.92,215.20 L183.33,215.20 L183.74,215.20 L184.15,215.20 L184.56,215.20 L184.97,215.20 L185.38,215.20 L185.79,215.20 L186.20,215.20 L186.61,215.20 L187.02,215.20 L187.43,215.20 L187.84,215.20 L188.25,215.20 L188.66,215.20 L189.07,215.20 L189.48,215.20 L189.89,215.20 L190.30,215.20 L190.71,215.20 L191.12,215.20 L191.52,215.20 L191.93,215.20 L192.34,215.20 L192.75,215.20 L193.16,215.20 L193.57,215.20 L193.98,215.20 L194.39,215.20 L194.80,215.20 L195.21,215.20 L195.62,215.20 L196.03,215.20 L196.44,215.20 L196.85,215.20 L197.26,215.20 L197.67,215.20 L198.08,215.20 L198.49,215.20 L198.90,215.20 L199.31,215.20 L199.72,215.20 L200.13,215.20 L200.53,215.20 L200.94,215.20 L201.35,215.20 L201.76,215.20 L202.17,215.20 L202.58,215.20 L202.99,215.20 L203.40,215.20 L203.81,215.20 L204.22,215.20 L204.63,215.20 L205.04,215.20 L205.45,215.20 L205.86,215.20 L206.27,215.20 L206.68,215.20 L207.09,215.20 L207.50,215.20 L207.91,215.20 L208.32,215.20 L208.73,215.20 L209.14,215.20 L209.54,215.20 L209.95,215.20 L210.36,215.20 L210.77,215.20 L211.18,215.20 L211.59,215.20 L212.00,215.20 L212.41,215.20 L212.82,215.20 L213.23,215.20 L213.64,215.20 L214.05,215.20 L214.46,215.20 L214.87,215.20 L215.28,215.20 L215.69,215.20 L216.10,215.20 L216.51,215.19 L216.92,215.19 L217.33,215.18 L217.74,215.17 L218.15,215.16 L218.55,215.14 L218.96,215.11 L219.37,215.06 L219.78,214.99 L220.19,214.88 L220.60,214.74 L221.01,214.54 L221.42,214.27 L221.83,213.90 L222.24,213.40 L222.65,212.76 L223.06,211.93 L223.47,210.88 L223.88,209.57 L224.29,207.97 L224.70,206.03 L225.11,203.72 L225.52,201.04 L225.93,197.96 L226.34,194.50 L226.75,190.69 L227.16,186.57 L227.56,182.21 L227.97,177.70 L228.38,173.16 L228.79,168.71 L229.20,164.48 L229.61,160.62 L230.02,157.27 L230.43,154.55 L230.84,152.56 L231.25,151.39 L231.66,151.08 L232.07,151.65 L232.48,153.07 L232.89,155.28 L233.30,158.20 L233.71,161.71 L234.12,165.69 L234.53,170.00 L234.94,174.49 L235.35,179.04 L235.76,183.51 L236.17,187.81 L236.57,191.85 L236.98,195.56 L237.39,198.91 L237.80,201.87 L238.21,204.44 L238.62,206.63 L239.03,208.47 L239.44,209.99 L239.85,211.22 L240.26,212.20 L240.67,212.97 L241.08,213.56 L241.49,214.02 L241.90,214.36 L242.31,214.61 L242.72,214.79 L243.13,214.92 L243.54,215.01 L243.95,215.07 L244.36,215.12 L244.77,215.15 L245.18,215.17 L245.58,215.18 L245.99,215.19 L246.40,215.19 L246.81,215.19 L247.22,215.20 L247.63,215.20 L248.04,215.20 L248.45,215.20 L248.86,215.20 L249.27,215.20 L249.68,215.20 L250.09,215.20 L250.50,215.20 L250.91,215.20 L251.32,215.20 L251.73,215.20 L252.14,215.20 L252.55,215.20 L252.96,215.20 L253.37,215.20 L253.78,215.20 L254.19,215.20 L254.59,215.20 L255.00,215.20 L255.41,215.20 L255.82,215.20 L256.23,215.20 L256.64,215.20 L257.05,215.20 L257.46,215.20 L257.87,215.20 L258.28,215.20 L258.69,215.20 L259.10,215.20" fill="none" stroke="#000" stroke-width="1.8"/>
<path d="M232.4,145.79999999999998V215.2" stroke="#000" stroke-width="1.3" stroke-dasharray="1.2 3.7"/>
<circle cx="226.5" cy="215.2" r="2.6" fill="#ec1515"/>
<circle cx="231.6" cy="215.2" r="2.6" fill="#000"/>
<path d="M215.5,37.6H233" stroke="#000" stroke-width="1.4"/>
<polygon points="212,37.6 218,35.2 218,40" fill="#000"/><polygon points="236.5,37.6 230.5,35.2 230.5,40" fill="#000"/>
<text x="213.8" y="27.2" font-size="10.8" fill="#111">−<tspan font-family="Liberation Serif" font-style="italic">μ</tspan><tspan font-size="8.2" dy="2">b</tspan></text>
<text x="199.2" y="42.1" font-size="11" fill="#111"><tspan font-family="Liberation Serif" font-style="italic">σ</tspan><tspan font-size="8.4" dy="3.6">b</tspan></text>
<text x="195.3" y="109.8" font-size="10.6" fill="#ec1515">10<tspan font-family="Liberation Serif" font-style="italic">μ</tspan></text>
<text x="224.6" y="109.3" font-size="10.8" fill="#111" font-family="Liberation Serif" font-style="italic">μ</text>
<text x="217.7" y="258.3" font-size="11" text-anchor="middle" fill="#111" >Input</text>
<path d="M311,30.85V112.4H392" fill="none" stroke="#222" stroke-width="1.5"/>
<path d="M311,112.4v3.7" stroke="#222" stroke-width="1.5"/>
<text x="311" y="129.3" font-size="10.3" text-anchor="middle" fill="#111" >1</text>
<path d="M392,112.4v3.7" stroke="#222" stroke-width="1.5"/>
<text x="392" y="129.3" font-size="10.3" text-anchor="middle" fill="#111" >10</text>
<path d="M311,30.85h-3.9" stroke="#222" stroke-width="1.5"/>
<text x="303.2" y="35.25" font-size="10.3" text-anchor="end" fill="#111" >1</text>
<path d="M311,112.4h-3.9" stroke="#222" stroke-width="1.5"/>
<text x="303.2" y="116.80000000000001" font-size="10.3" text-anchor="end" fill="#111" >0</text>
<path d="M311,145.3V226.9H392" fill="none" stroke="#222" stroke-width="1.5"/>
<path d="M311,226.9v3.7" stroke="#222" stroke-width="1.5"/>
<text x="311" y="243.8" font-size="10.3" text-anchor="middle" fill="#111" >1</text>
<path d="M392,226.9v3.7" stroke="#222" stroke-width="1.5"/>
<text x="392" y="243.8" font-size="10.3" text-anchor="middle" fill="#111" >10</text>
<path d="M311,145.3h-3.9" stroke="#222" stroke-width="1.5"/>
<text x="303.2" y="149.70000000000002" font-size="10.3" text-anchor="end" fill="#111" >1</text>
<path d="M311,226.9h-3.9" stroke="#222" stroke-width="1.5"/>
<text x="303.2" y="231.3" font-size="10.3" text-anchor="end" fill="#111" >0</text>
<text x="351.0" y="257.5" font-size="11.5" fill="#111" text-anchor="middle" font-family="Liberation Serif" font-style="italic">g</text>
<path d="M443.8,30.85V112.4H525.2" fill="none" stroke="#222" stroke-width="1.5"/>
<path d="M443.8,112.4v3.7" stroke="#222" stroke-width="1.5"/>
<text x="443.8" y="129.3" font-size="10.3" text-anchor="middle" fill="#111" >1</text>
<path d="M525.2,112.4v3.7" stroke="#222" stroke-width="1.5"/>
<text x="525.2" y="129.3" font-size="10.3" text-anchor="middle" fill="#111" >10</text>
<path d="M443.8,30.85h-3.9" stroke="#222" stroke-width="1.5"/>
<text x="435.6" y="35.25" font-size="10.3" text-anchor="end" fill="#111" >10</text>
<path d="M443.8,112.4h-3.9" stroke="#222" stroke-width="1.5"/>
<text x="435.6" y="116.80000000000001" font-size="10.3" text-anchor="end" fill="#111" >0</text>
<path d="M443.8,145.3V226.9H525.2" fill="none" stroke="#222" stroke-width="1.5"/>
<path d="M443.8,226.9v3.7" stroke="#222" stroke-width="1.5"/>
<text x="443.8" y="243.8" font-size="10.3" text-anchor="middle" fill="#111" >1</text>
<path d="M525.2,226.9v3.7" stroke="#222" stroke-width="1.5"/>
<text x="525.2" y="243.8" font-size="10.3" text-anchor="middle" fill="#111" >10</text>
<path d="M443.8,145.3h-3.9" stroke="#222" stroke-width="1.5"/>
<text x="435.6" y="149.70000000000002" font-size="10.3" text-anchor="end" fill="#111" >10</text>
<path d="M443.8,226.9h-3.9" stroke="#222" stroke-width="1.5"/>
<text x="435.6" y="231.3" font-size="10.3" text-anchor="end" fill="#111" >0</text>
<text x="484.5" y="257.5" font-size="11.5" fill="#111" text-anchor="middle" font-family="Liberation Serif" font-style="italic">g</text>
<path d="M577,30.85V112.4H658" fill="none" stroke="#222" stroke-width="1.5"/>
<path d="M577,112.4v3.7" stroke="#222" stroke-width="1.5"/>
<text x="577" y="129.3" font-size="10.3" text-anchor="middle" fill="#111" >1</text>
<path d="M658,112.4v3.7" stroke="#222" stroke-width="1.5"/>
<text x="658" y="129.3" font-size="10.3" text-anchor="middle" fill="#111" >10</text>
<path d="M577,30.85h-3.9" stroke="#222" stroke-width="1.5"/>
<text x="567.2" y="35.25" font-size="10.3" text-anchor="end" fill="#111" >10</text>
<path d="M577,112.4h-3.9" stroke="#222" stroke-width="1.5"/>
<text x="567.2" y="116.80000000000001" font-size="10.3" text-anchor="end" fill="#111" >0</text>
<path d="M577,145.3V226.9H658" fill="none" stroke="#222" stroke-width="1.5"/>
<path d="M577,226.9v3.7" stroke="#222" stroke-width="1.5"/>
<text x="577" y="243.8" font-size="10.3" text-anchor="middle" fill="#111" >1</text>
<path d="M658,226.9v3.7" stroke="#222" stroke-width="1.5"/>
<text x="658" y="243.8" font-size="10.3" text-anchor="middle" fill="#111" >10</text>
<path d="M577,145.3h-3.9" stroke="#222" stroke-width="1.5"/>
<text x="567.2" y="149.70000000000002" font-size="10.3" text-anchor="end" fill="#111" >10</text>
<path d="M577,226.9h-3.9" stroke="#222" stroke-width="1.5"/>
<text x="567.2" y="231.3" font-size="10.3" text-anchor="end" fill="#111" >0</text>
<text x="618.0" y="257.5" font-size="11.5" fill="#111" text-anchor="middle" font-family="Liberation Serif" font-style="italic">g</text>
<text x="327.6" y="22.8" font-size="11" fill="#111">P (<tspan font-style="italic">r</tspan><tspan font-size="8.3" dy="2.2">hid</tspan><tspan dy="-2.2"> &gt; 0)</tspan></text>
<text x="463.3" y="25.6" font-size="11" fill="#111">⟨<tspan font-style="italic">r</tspan><tspan font-size="8.3" dy="2.6">hid</tspan><tspan dy="-2.6">⟩</tspan><tspan font-size="9" dy="1.6" font-style="italic">r</tspan><tspan font-size="7.4" dy="2.4">hid</tspan><tspan dy="-4"> &gt; 0</tspan></text>
<text x="604.8" y="25.2" font-size="11" fill="#111">⟨<tspan font-style="italic">r</tspan><tspan font-size="8.3" dy="2.6">hid</tspan><tspan dy="-2.6">⟩</tspan></text>
<path d="M310.90,37.20 L312.56,39.99 L314.22,42.65 L315.88,45.19 L317.54,47.62 L319.21,49.93 L320.87,52.13 L322.53,54.23 L324.19,56.21 L325.85,58.10 L327.51,59.88 L329.17,61.57 L330.83,63.16 L332.50,64.67 L334.16,66.09 L335.82,67.42 L337.48,68.68 L339.14,69.85 L340.80,70.95 L342.46,71.98 L344.12,72.94 L345.79,73.83 L347.45,74.66 L349.11,75.43 L350.77,76.15 L352.43,76.81 L354.09,77.42 L355.75,77.99 L357.41,78.51 L359.08,78.98 L360.74,79.42 L362.40,79.83 L364.06,80.20 L365.72,80.54 L367.38,80.86 L369.04,81.15 L370.70,81.43 L372.37,81.69 L374.03,81.93 L375.69,82.16 L377.35,82.39 L379.01,82.61 L380.67,82.83 L382.33,83.05 L383.99,83.27 L385.66,83.50 L387.32,83.75 L388.98,84.00 L390.64,84.28 L392.30,84.57" fill="none" stroke="#219a23" stroke-width="1.4"/>
<circle cx="310.9" cy="37.3" r="2.7" fill="#000"/>
<circle cx="392.3" cy="84.5" r="2.7" fill="#ec1515"/>
<path d="M444.00,92.63 L445.66,92.59 L447.32,92.48 L448.98,92.32 L450.64,92.09 L452.30,91.82 L453.96,91.48 L455.61,91.10 L457.27,90.67 L458.93,90.19 L460.59,89.67 L462.25,89.11 L463.91,88.51 L465.57,87.87 L467.23,87.20 L468.89,86.50 L470.55,85.77 L472.21,85.01 L473.87,84.22 L475.52,83.41 L477.18,82.59 L478.84,81.74 L480.50,80.88 L482.16,80.01 L483.82,79.13 L485.48,78.23 L487.14,77.33 L488.80,76.42 L490.46,75.51 L492.12,74.59 L493.78,73.66 L495.43,72.74 L497.09,71.82 L498.75,70.90 L500.41,69.99 L502.07,69.07 L503.73,68.17 L505.39,67.28 L507.05,66.39 L508.71,65.52 L510.37,64.66 L512.03,63.81 L513.69,62.98 L515.34,62.17 L517.00,61.38 L518.66,60.60 L520.32,59.85 L521.98,59.13 L523.64,58.43 L525.30,57.75" fill="none" stroke="#219a23" stroke-width="1.4"/>
<circle cx="444" cy="92.4" r="2.7" fill="#000"/>
<circle cx="525.3" cy="57.7" r="2.7" fill="#ec1515"/>
<path d="M576.80,94.33 L578.47,94.86 L580.13,95.34 L581.80,95.78 L583.47,96.17 L585.14,96.52 L586.80,96.83 L588.47,97.10 L590.14,97.34 L591.81,97.54 L593.47,97.71 L595.14,97.85 L596.81,97.96 L598.48,98.03 L600.14,98.09 L601.81,98.12 L603.48,98.12 L605.14,98.11 L606.81,98.07 L608.48,98.02 L610.15,97.95 L611.81,97.87 L613.48,97.77 L615.15,97.66 L616.82,97.55 L618.48,97.42 L620.15,97.28 L621.82,97.14 L623.49,96.99 L625.15,96.83 L626.82,96.67 L628.49,96.51 L630.16,96.34 L631.82,96.17 L633.49,96.00 L635.16,95.83 L636.82,95.65 L638.49,95.49 L640.16,95.32 L641.83,95.16 L643.49,95.00 L645.16,94.84 L646.83,94.70 L648.50,94.56 L650.16,94.43 L651.83,94.30 L653.50,94.19 L655.17,94.09 L656.83,94.00 L658.50,93.92" fill="none" stroke="#219a23" stroke-width="1.4"/>
<circle cx="576.8" cy="94.1" r="2.7" fill="#000"/>
<circle cx="658.5" cy="93.8" r="2.7" fill="#ec1515"/>
<path d="M310.80,192.90 L392.10,192.90" fill="none" stroke="#811a8c" stroke-width="1.4"/>
<circle cx="310.8" cy="192.9" r="2.7" fill="#000"/>
<circle cx="392.1" cy="192.9" r="2.7" fill="#ec1515"/>
<path d="M444.00,218.00 L484.60,192.90 L525.30,167.30" fill="none" stroke="#811a8c" stroke-width="1.4"/>
<circle cx="444" cy="218" r="2.7" fill="#000"/>
<circle cx="525.3" cy="167.3" r="2.7" fill="#ec1515"/>
<path d="M577.20,223.10 L658.00,201.80" fill="none" stroke="#811a8c" stroke-width="1.4"/>
<circle cx="577.2" cy="223.1" r="2.7" fill="#000"/>
<circle cx="658" cy="201.8" r="2.7" fill="#ec1515"/>
<path d="M38.7,287.4V368.9H120" fill="none" stroke="#222" stroke-width="1.5"/>
<path d="M38.7,368.9v3.7" stroke="#222" stroke-width="1.5"/>
<text x="38.7" y="386.79999999999995" font-size="10.3" text-anchor="middle" fill="#111" >−1</text>
<path d="M79.35,368.9v3.7" stroke="#222" stroke-width="1.5"/>
<text x="79.35" y="386.79999999999995" font-size="10.3" text-anchor="middle" fill="#111" >0</text>
<path d="M120,368.9v3.7" stroke="#222" stroke-width="1.5"/>
<text x="120" y="386.79999999999995" font-size="10.3" text-anchor="middle" fill="#111" >1</text>
<path d="M38.7,287.4h-3.9" stroke="#222" stroke-width="1.5"/>
<text x="27.700000000000003" y="291.79999999999995" font-size="10.3" text-anchor="end" fill="#111" >1000</text>
<path d="M38.7,368.9h-3.9" stroke="#222" stroke-width="1.5"/>
<text x="27.700000000000003" y="373.29999999999995" font-size="10.3" text-anchor="end" fill="#111" >0</text>
<polygon points="47.30,368.90 53.00,365.50 59.50,361.70 62.00,362.70 64.40,361.10 66.80,362.20 70.10,359.00 72.50,354.10 74.10,346.80 75.60,330.50 76.80,309.40 77.60,301.50 78.60,300.20 80.10,300.80 81.00,304.00 81.70,317.50 83.20,335.40 85.50,354.90 87.50,368.90" fill="#219a23"/>
<path d="M47,368.9H88" stroke="#219a23" stroke-width="1.5"/>
<path d="M79.3,289V368.9" stroke="#000" stroke-width="1.3" stroke-dasharray="1.2 3.7"/>
<text x="87.3" y="311.2" font-size="11" fill="#111">⟨<tspan font-style="italic">W</tspan><tspan font-size="8.3" dy="2.8" font-style="italic">ij</tspan><tspan dy="-2.8">⟩ = −0.07</tspan></text>
<text x="80" y="401" font-size="11.5" fill="#111" text-anchor="middle"><tspan font-style="italic">W</tspan><tspan font-size="8.3" dy="1.9" font-style="italic">ij</tspan></text>
<path d="M38,431.8V514H120.1" fill="none" stroke="#222" stroke-width="1.5"/>
<path d="M38,514v3.7" stroke="#222" stroke-width="1.5"/>
<text x="38" y="533" font-size="10.3" text-anchor="middle" fill="#111" >−1</text>
<path d="M79.05,514v3.7" stroke="#222" stroke-width="1.5"/>
<text x="79.05" y="533" font-size="10.3" text-anchor="middle" fill="#111" >0</text>
<path d="M120.1,514v3.7" stroke="#222" stroke-width="1.5"/>
<text x="120.1" y="533" font-size="10.3" text-anchor="middle" fill="#111" >1</text>
<path d="M38,431.8h-3.9" stroke="#222" stroke-width="1.5"/>
<text x="27" y="436.2" font-size="10.3" text-anchor="end" fill="#111" >1000</text>
<path d="M38,514h-3.9" stroke="#222" stroke-width="1.5"/>
<text x="27" y="518.4" font-size="10.3" text-anchor="end" fill="#111" >0</text>
<polygon points="38.60,514.00 49.70,513.00 58.30,511.00 63.10,508.60 68.00,502.90 71.30,491.50 73.70,476.90 76.20,460.60 77.80,444.30 78.80,433.00 79.50,431.30 80.40,432.50 81.00,437.80 82.70,452.40 84.30,468.70 86.80,488.30 88.40,499.70 90.00,507.80 94.10,511.20 98.00,513.30 108.00,514.00" fill="#811a8c"/>
<path d="M39,514H98" stroke="#811a8c" stroke-width="1.5"/>
<path d="M79.3,433V514" stroke="#000" stroke-width="1.3" stroke-dasharray="1.2 3.7"/>
<text x="87.2" y="454" font-size="11" fill="#111">⟨<tspan font-style="italic">W</tspan><tspan font-size="8.3" dy="2.8" font-style="italic">ij</tspan><tspan dy="-2.8">⟩ = −0.02</tspan></text>
<text x="79" y="547" font-size="11.5" fill="#111" text-anchor="middle"><tspan font-style="italic">W</tspan><tspan font-size="8.3" dy="1.9" font-style="italic">ij</tspan></text>
<path d="M198.9,287.4V368.9H280.9" fill="none" stroke="#222" stroke-width="1.5"/>
<path d="M198.9,368.9v3.7" stroke="#222" stroke-width="1.5"/>
<text x="198.9" y="386.4" font-size="10.3" text-anchor="middle" fill="#111" >−1</text>
<path d="M239.89999999999998,368.9v3.7" stroke="#222" stroke-width="1.5"/>
<text x="239.89999999999998" y="386.4" font-size="10.3" text-anchor="middle" fill="#111" >0</text>
<path d="M280.9,368.9v3.7" stroke="#222" stroke-width="1.5"/>
<text x="280.9" y="386.4" font-size="10.3" text-anchor="middle" fill="#111" >1</text>
<path d="M198.9,287.4h-3.9" stroke="#222" stroke-width="1.5"/>
<text x="190.0" y="291.79999999999995" font-size="10.3" text-anchor="end" fill="#111" >20</text>
<path d="M198.9,368.9h-3.9" stroke="#222" stroke-width="1.5"/>
<text x="190.0" y="373.29999999999995" font-size="10.3" text-anchor="end" fill="#111" >0</text>
<g fill="#219a23"><rect x="239.75" y="364.82" width="1.94" height="4.08"/><rect x="243.03" y="360.75" width="1.94" height="8.15"/><rect x="244.67" y="364.82" width="1.94" height="4.08"/><rect x="251.23" y="364.82" width="1.94" height="4.08"/><rect x="254.51" y="364.82" width="1.94" height="4.08"/><rect x="256.15" y="360.75" width="1.94" height="8.15"/><rect x="257.79" y="352.60" width="1.94" height="16.30"/><rect x="259.43" y="356.67" width="1.94" height="12.23"/><rect x="261.07" y="352.60" width="1.94" height="16.30"/><rect x="262.71" y="344.45" width="1.94" height="24.45"/><rect x="264.35" y="311.85" width="1.94" height="57.05"/><rect x="265.99" y="303.70" width="1.94" height="65.20"/><rect x="267.63" y="320.00" width="1.94" height="48.90"/><rect x="269.27" y="344.45" width="1.94" height="24.45"/><rect x="270.91" y="344.45" width="1.94" height="24.45"/><rect x="272.55" y="356.67" width="1.94" height="12.23"/><rect x="274.19" y="356.67" width="1.94" height="12.23"/><rect x="275.83" y="360.75" width="1.94" height="8.15"/><rect x="277.47" y="356.67" width="1.94" height="12.23"/><rect x="279.11" y="364.82" width="1.94" height="4.08"/></g>
<path d="M240.6,368.9H280.9" stroke="#219a23" stroke-width="1.5"/>
<path d="M240.4,290V368.9" stroke="#000" stroke-width="1.3" stroke-dasharray="1.2 3.7"/>
<text x="205.2" y="298" font-size="11" fill="#111">⟨<tspan font-style="italic">b</tspan><tspan font-size="8.3" dy="2.8" font-style="italic">i</tspan><tspan dy="-2.8">⟩ = 0.65</tspan></text>
<text x="239.5" y="401" font-size="11.5" fill="#111" text-anchor="middle"><tspan font-style="italic">b</tspan><tspan font-size="8.3" dy="1.9" font-style="italic">i</tspan></text>
<path d="M199.3,431.8V514H280.9" fill="none" stroke="#222" stroke-width="1.5"/>
<path d="M199.3,514v3.7" stroke="#222" stroke-width="1.5"/>
<text x="199.3" y="532.8" font-size="10.3" text-anchor="middle" fill="#111" >−1</text>
<path d="M240.1,514v3.7" stroke="#222" stroke-width="1.5"/>
<text x="240.1" y="532.8" font-size="10.3" text-anchor="middle" fill="#111" >0</text>
<path d="M280.9,514v3.7" stroke="#222" stroke-width="1.5"/>
<text x="280.9" y="532.8" font-size="10.3" text-anchor="middle" fill="#111" >1</text>
<path d="M199.3,431.8h-3.9" stroke="#222" stroke-width="1.5"/>
<text x="188.4" y="436.2" font-size="10.3" text-anchor="end" fill="#111" >10</text>
<path d="M199.3,514h-3.9" stroke="#222" stroke-width="1.5"/>
<text x="188.4" y="518.4" font-size="10.3" text-anchor="end" fill="#111" >0</text>
<g fill="#811a8c"><rect x="226.80" y="505.78" width="1.9" height="8.22"/><rect x="228.20" y="497.56" width="1.9" height="16.44"/><rect x="230.10" y="481.12" width="1.9" height="32.88"/><rect x="231.80" y="472.90" width="1.9" height="41.10"/><rect x="233.20" y="481.12" width="1.9" height="32.88"/><rect x="234.60" y="489.34" width="1.9" height="24.66"/><rect x="236.00" y="472.90" width="1.9" height="41.10"/><rect x="237.70" y="472.90" width="1.9" height="41.10"/><rect x="239.50" y="464.68" width="1.9" height="49.32"/><rect x="240.90" y="456.46" width="1.9" height="57.54"/><rect x="242.60" y="456.46" width="1.9" height="57.54"/><rect x="244.40" y="464.68" width="1.9" height="49.32"/><rect x="246.10" y="472.90" width="1.9" height="41.10"/><rect x="247.90" y="497.56" width="1.9" height="16.44"/><rect x="249.40" y="505.78" width="1.9" height="8.22"/><rect x="251.50" y="505.78" width="1.9" height="8.22"/><rect x="253.10" y="505.78" width="1.9" height="8.22"/><rect x="254.70" y="505.78" width="1.9" height="8.22"/><rect x="256.30" y="505.78" width="1.9" height="8.22"/></g>
<path d="M226.9,514H258.4" stroke="#811a8c" stroke-width="1.5"/>
<path d="M252.6,505.5V513.2M254.7,505.5V513.2M256.7,505.5V513.2M236.4,473V484M239.3,473V484" stroke="#fff" stroke-width="0.7" opacity="0.9"/>
<path d="M240,434V514" stroke="#000" stroke-width="1.3" stroke-dasharray="1.2 3.7"/>
<text x="200.7" y="444.8" font-size="11" fill="#111">⟨<tspan font-style="italic">b</tspan><tspan font-size="8.3" dy="2.8" font-style="italic">i</tspan><tspan dy="-2.8">⟩ = −0.01</tspan></text>
<text x="239.5" y="547" font-size="11.5" fill="#111" text-anchor="middle"><tspan font-style="italic">b</tspan><tspan font-size="8.3" dy="1.9" font-style="italic">i</tspan></text>
<path d="M354.1,287.8V369H435.8" fill="none" stroke="#222" stroke-width="1.5"/>
<path d="M354.1,369v3.7" stroke="#222" stroke-width="1.5"/>
<text x="354.1" y="387.6" font-size="10.3" text-anchor="middle" fill="#111" >0</text>
<path d="M435.8,369v3.7" stroke="#222" stroke-width="1.5"/>
<text x="435.8" y="387.6" font-size="10.3" text-anchor="middle" fill="#111" >0.5</text>
<path d="M354.1,287.8h-3.9" stroke="#222" stroke-width="1.5"/>
<text x="343.90000000000003" y="292.2" font-size="10.3" text-anchor="end" fill="#111" >1</text>
<path d="M354.1,369h-3.9" stroke="#222" stroke-width="1.5"/>
<text x="343.90000000000003" y="373.4" font-size="10.3" text-anchor="end" fill="#111" >0</text>
<g fill="#219a23"><circle cx="379.4" cy="341.1" r="1.55"/><circle cx="428.5" cy="333.3" r="1.55"/><circle cx="386.8" cy="340.8" r="1.55"/><circle cx="374.6" cy="341.5" r="1.55"/><circle cx="392.4" cy="343.2" r="1.55"/><circle cx="402.2" cy="336.1" r="1.55"/><circle cx="383.6" cy="335.0" r="1.55"/><circle cx="384.3" cy="332.8" r="1.55"/><circle cx="374.0" cy="338.3" r="1.55"/><circle cx="390.7" cy="332.3" r="1.55"/><circle cx="371.5" cy="337.8" r="1.55"/><circle cx="373.2" cy="338.1" r="1.55"/><circle cx="402.5" cy="333.6" r="1.55"/><circle cx="375.7" cy="333.1" r="1.55"/><circle cx="400.0" cy="337.6" r="1.55"/><circle cx="405.5" cy="336.8" r="1.55"/><circle cx="411.3" cy="336.0" r="1.55"/><circle cx="393.6" cy="336.2" r="1.55"/><circle cx="410.7" cy="338.4" r="1.55"/><circle cx="408.1" cy="332.4" r="1.55"/><circle cx="379.5" cy="339.1" r="1.55"/><circle cx="370.2" cy="336.0" r="1.55"/><circle cx="387.3" cy="340.4" r="1.55"/><circle cx="404.9" cy="334.3" r="1.55"/><circle cx="398.5" cy="334.6" r="1.55"/><circle cx="375.2" cy="339.4" r="1.55"/><circle cx="376.3" cy="329.0" r="1.55"/><circle cx="404.6" cy="334.3" r="1.55"/><circle cx="390.4" cy="329.2" r="1.55"/><circle cx="384.3" cy="333.0" r="1.55"/><circle cx="389.4" cy="339.6" r="1.55"/><circle cx="390.4" cy="338.3" r="1.55"/><circle cx="383.1" cy="335.3" r="1.55"/><circle cx="386.3" cy="336.7" r="1.55"/><circle cx="389.3" cy="336.6" r="1.55"/><circle cx="385.8" cy="338.2" r="1.55"/><circle cx="393.0" cy="344.2" r="1.55"/><circle cx="409.7" cy="336.3" r="1.55"/><circle cx="394.0" cy="345.9" r="1.55"/><circle cx="387.5" cy="335.3" r="1.55"/><circle cx="366.1" cy="341.2" r="1.55"/><circle cx="415.1" cy="337.5" r="1.55"/><circle cx="363.1" cy="339.3" r="1.55"/><circle cx="369.5" cy="336.8" r="1.55"/><circle cx="397.3" cy="342.3" r="1.55"/><circle cx="395.4" cy="343.8" r="1.55"/><circle cx="384.9" cy="341.5" r="1.55"/><circle cx="365.8" cy="346.8" r="1.55"/><circle cx="382.2" cy="341.3" r="1.55"/><circle cx="408.2" cy="330.6" r="1.55"/><circle cx="394.6" cy="340.9" r="1.55"/><circle cx="414.4" cy="333.2" r="1.55"/><circle cx="389.4" cy="342.6" r="1.55"/><circle cx="377.2" cy="336.2" r="1.55"/><circle cx="372.4" cy="339.1" r="1.55"/><circle cx="386.1" cy="337.2" r="1.55"/><circle cx="384.6" cy="334.7" r="1.55"/><circle cx="372.7" cy="330.4" r="1.55"/><circle cx="407.6" cy="334.9" r="1.55"/><circle cx="372.7" cy="337.2" r="1.55"/><circle cx="400.4" cy="340.2" r="1.55"/><circle cx="399.8" cy="333.7" r="1.55"/><circle cx="400.1" cy="337.2" r="1.55"/><circle cx="381.0" cy="333.8" r="1.55"/><circle cx="393.1" cy="336.7" r="1.55"/><circle cx="385.2" cy="329.7" r="1.55"/><circle cx="382.0" cy="345.6" r="1.55"/><circle cx="382.6" cy="338.4" r="1.55"/><circle cx="405.2" cy="332.1" r="1.55"/><circle cx="369.1" cy="339.5" r="1.55"/><circle cx="396.5" cy="339.7" r="1.55"/><circle cx="384.4" cy="338.2" r="1.55"/><circle cx="413.4" cy="339.7" r="1.55"/><circle cx="399.1" cy="335.7" r="1.55"/><circle cx="365.5" cy="327.9" r="1.55"/><circle cx="377.2" cy="332.7" r="1.55"/><circle cx="423.2" cy="338.3" r="1.55"/><circle cx="403.5" cy="339.6" r="1.55"/><circle cx="382.2" cy="338.9" r="1.55"/><circle cx="399.4" cy="331.9" r="1.55"/><circle cx="389.4" cy="340.2" r="1.55"/><circle cx="400.2" cy="339.0" r="1.55"/><circle cx="375.4" cy="333.9" r="1.55"/><circle cx="396.7" cy="332.7" r="1.55"/><circle cx="414.0" cy="336.5" r="1.55"/><circle cx="363.5" cy="343.0" r="1.55"/><circle cx="403.3" cy="342.5" r="1.55"/><circle cx="394.1" cy="339.4" r="1.55"/><circle cx="403.2" cy="345.4" r="1.55"/><circle cx="382.1" cy="334.0" r="1.55"/><circle cx="383.2" cy="339.8" r="1.55"/><circle cx="406.6" cy="333.7" r="1.55"/><circle cx="414.6" cy="329.4" r="1.55"/><circle cx="384.6" cy="332.1" r="1.55"/><circle cx="406.2" cy="340.6" r="1.55"/><circle cx="378.8" cy="333.7" r="1.55"/><circle cx="388.8" cy="331.9" r="1.55"/><circle cx="366.3" cy="341.3" r="1.55"/><circle cx="382.1" cy="341.2" r="1.55"/><circle cx="398.8" cy="336.7" r="1.55"/><circle cx="407.8" cy="342.4" r="1.55"/><circle cx="399.9" cy="329.9" r="1.55"/><circle cx="390.9" cy="346.8" r="1.55"/><circle cx="374.0" cy="342.4" r="1.55"/><circle cx="427.4" cy="335.4" r="1.55"/><circle cx="381.2" cy="338.2" r="1.55"/><circle cx="386.2" cy="336.3" r="1.55"/><circle cx="380.2" cy="336.2" r="1.55"/><circle cx="376.6" cy="338.4" r="1.55"/><circle cx="383.0" cy="332.3" r="1.55"/><circle cx="374.2" cy="346.7" r="1.55"/><circle cx="418.6" cy="335.0" r="1.55"/><circle cx="386.2" cy="340.0" r="1.55"/><circle cx="404.4" cy="335.3" r="1.55"/><circle cx="368.0" cy="337.1" r="1.55"/><circle cx="386.8" cy="340.8" r="1.55"/><circle cx="378.8" cy="340.1" r="1.55"/><circle cx="374.8" cy="334.3" r="1.55"/><circle cx="397.2" cy="334.8" r="1.55"/><circle cx="380.4" cy="340.2" r="1.55"/><circle cx="405.1" cy="327.2" r="1.55"/><circle cx="377.2" cy="327.7" r="1.55"/><circle cx="391.5" cy="342.8" r="1.55"/><circle cx="384.0" cy="335.8" r="1.55"/><circle cx="377.5" cy="326.9" r="1.55"/><circle cx="394.0" cy="333.2" r="1.55"/><circle cx="384.9" cy="336.1" r="1.55"/><circle cx="394.2" cy="337.4" r="1.55"/><circle cx="386.2" cy="339.2" r="1.55"/><circle cx="373.5" cy="338.6" r="1.55"/><circle cx="414.1" cy="337.0" r="1.55"/><circle cx="387.4" cy="333.7" r="1.55"/><circle cx="398.5" cy="337.9" r="1.55"/><circle cx="375.7" cy="339.5" r="1.55"/><circle cx="430.8" cy="338.1" r="1.55"/><circle cx="365.7" cy="338.4" r="1.55"/><circle cx="425.1" cy="337.5" r="1.55"/><circle cx="373.5" cy="338.5" r="1.55"/><circle cx="364.6" cy="333.8" r="1.55"/><circle cx="427.5" cy="333.3" r="1.55"/><circle cx="400.3" cy="334.0" r="1.55"/><circle cx="368.1" cy="336.5" r="1.55"/><circle cx="373.4" cy="337.5" r="1.55"/><circle cx="429.1" cy="334.8" r="1.55"/><circle cx="372.9" cy="339.1" r="1.55"/><circle cx="411.4" cy="333.1" r="1.55"/><circle cx="376.9" cy="342.1" r="1.55"/><circle cx="377.9" cy="331.8" r="1.55"/><circle cx="393.9" cy="336.4" r="1.55"/><circle cx="423.3" cy="337.1" r="1.55"/><circle cx="392.1" cy="338.7" r="1.55"/><circle cx="374.9" cy="340.5" r="1.55"/><circle cx="371.9" cy="337.1" r="1.55"/><circle cx="364.3" cy="341.3" r="1.55"/><circle cx="409.6" cy="331.9" r="1.55"/><circle cx="401.7" cy="339.3" r="1.55"/><circle cx="389.8" cy="346.3" r="1.55"/><circle cx="386.4" cy="340.0" r="1.55"/><circle cx="388.7" cy="345.3" r="1.55"/><circle cx="387.4" cy="337.1" r="1.55"/><circle cx="410.2" cy="332.2" r="1.55"/><circle cx="407.1" cy="333.0" r="1.55"/><circle cx="367.7" cy="343.7" r="1.55"/><circle cx="374.4" cy="340.9" r="1.55"/><circle cx="370.4" cy="330.4" r="1.55"/><circle cx="395.9" cy="335.0" r="1.55"/><circle cx="396.8" cy="336.3" r="1.55"/><circle cx="375.0" cy="333.2" r="1.55"/><circle cx="369.7" cy="327.6" r="1.55"/><circle cx="403.2" cy="330.5" r="1.55"/><circle cx="403.8" cy="335.3" r="1.55"/><circle cx="363.1" cy="336.8" r="1.55"/><circle cx="393.2" cy="333.9" r="1.55"/><circle cx="373.6" cy="340.3" r="1.55"/><circle cx="399.5" cy="340.6" r="1.55"/><circle cx="373.6" cy="337.5" r="1.55"/><circle cx="383.3" cy="341.1" r="1.55"/><circle cx="368.3" cy="338.3" r="1.55"/><circle cx="374.8" cy="337.2" r="1.55"/><circle cx="403.8" cy="326.0" r="1.55"/><circle cx="418.2" cy="337.7" r="1.55"/><circle cx="381.9" cy="337.7" r="1.55"/><circle cx="421.8" cy="335.4" r="1.55"/><circle cx="363.6" cy="336.5" r="1.55"/><circle cx="430.0" cy="331.0" r="1.55"/><circle cx="386.4" cy="339.0" r="1.55"/><circle cx="385.7" cy="340.5" r="1.55"/><circle cx="385.6" cy="343.9" r="1.55"/><circle cx="373.0" cy="341.7" r="1.55"/><circle cx="386.0" cy="334.7" r="1.55"/><circle cx="386.3" cy="336.8" r="1.55"/><circle cx="402.6" cy="340.3" r="1.55"/><circle cx="409.7" cy="336.7" r="1.55"/><circle cx="385.1" cy="336.9" r="1.55"/><circle cx="377.4" cy="335.4" r="1.55"/><circle cx="386.0" cy="339.5" r="1.55"/><circle cx="379.3" cy="338.4" r="1.55"/><circle cx="377.7" cy="345.1" r="1.55"/><circle cx="410.0" cy="339.2" r="1.55"/><circle cx="374.0" cy="330.9" r="1.55"/><circle cx="394.2" cy="345.7" r="1.55"/><circle cx="385.5" cy="338.4" r="1.55"/><circle cx="389.8" cy="335.8" r="1.55"/><circle cx="384.5" cy="338.6" r="1.55"/><circle cx="377.9" cy="340.9" r="1.55"/><circle cx="375.2" cy="337.9" r="1.55"/><circle cx="383.9" cy="337.1" r="1.55"/><circle cx="428.6" cy="334.7" r="1.55"/><circle cx="389.6" cy="344.7" r="1.55"/><circle cx="386.7" cy="337.6" r="1.55"/><circle cx="370.1" cy="341.5" r="1.55"/><circle cx="387.6" cy="339.2" r="1.55"/><circle cx="370.3" cy="336.9" r="1.55"/><circle cx="379.2" cy="334.7" r="1.55"/><circle cx="383.2" cy="333.4" r="1.55"/><circle cx="363.1" cy="340.4" r="1.55"/><circle cx="402.7" cy="332.1" r="1.55"/><circle cx="388.6" cy="331.9" r="1.55"/><circle cx="384.8" cy="332.2" r="1.55"/><circle cx="381.6" cy="331.4" r="1.55"/><circle cx="400.6" cy="336.7" r="1.55"/><circle cx="374.8" cy="338.4" r="1.55"/><circle cx="383.5" cy="333.6" r="1.55"/><circle cx="380.0" cy="343.1" r="1.55"/><circle cx="387.9" cy="336.0" r="1.55"/><circle cx="372.0" cy="340.0" r="1.55"/><circle cx="389.7" cy="338.3" r="1.55"/><circle cx="388.5" cy="344.2" r="1.55"/><circle cx="385.0" cy="340.8" r="1.55"/><circle cx="381.4" cy="337.3" r="1.55"/><circle cx="393.5" cy="332.8" r="1.55"/><circle cx="366.4" cy="334.0" r="1.55"/><circle cx="419.0" cy="335.3" r="1.55"/><circle cx="403.0" cy="336.8" r="1.55"/><circle cx="390.3" cy="340.2" r="1.55"/><circle cx="391.5" cy="334.9" r="1.55"/><circle cx="378.8" cy="338.4" r="1.55"/><circle cx="383.6" cy="334.6" r="1.55"/><circle cx="394.6" cy="329.1" r="1.55"/><circle cx="416.0" cy="335.3" r="1.55"/><circle cx="389.3" cy="343.1" r="1.55"/><circle cx="368.2" cy="341.7" r="1.55"/><circle cx="393.4" cy="342.7" r="1.55"/><circle cx="401.1" cy="341.1" r="1.55"/><circle cx="399.2" cy="330.7" r="1.55"/><circle cx="389.6" cy="335.8" r="1.55"/><circle cx="367.7" cy="344.5" r="1.55"/><circle cx="398.3" cy="333.5" r="1.55"/><circle cx="385.0" cy="331.7" r="1.55"/><circle cx="363.1" cy="339.9" r="1.55"/><circle cx="391.4" cy="339.5" r="1.55"/><circle cx="368.5" cy="339.4" r="1.55"/><circle cx="370.9" cy="336.7" r="1.55"/><circle cx="379.0" cy="334.7" r="1.55"/><circle cx="402.4" cy="331.0" r="1.55"/><circle cx="382.2" cy="332.1" r="1.55"/><circle cx="390.1" cy="331.7" r="1.55"/><circle cx="408.2" cy="331.3" r="1.55"/><circle cx="406.3" cy="333.0" r="1.55"/><circle cx="385.5" cy="343.5" r="1.55"/><circle cx="383.8" cy="337.7" r="1.55"/><circle cx="371.3" cy="336.5" r="1.55"/><circle cx="378.3" cy="339.1" r="1.55"/><circle cx="392.0" cy="332.8" r="1.55"/><circle cx="391.6" cy="338.2" r="1.55"/><circle cx="388.1" cy="340.8" r="1.55"/><circle cx="429.0" cy="329.8" r="1.55"/><circle cx="377.3" cy="334.7" r="1.55"/><circle cx="386.1" cy="336.0" r="1.55"/><circle cx="395.7" cy="332.5" r="1.55"/><circle cx="393.9" cy="332.0" r="1.55"/><circle cx="399.9" cy="334.7" r="1.55"/><circle cx="391.6" cy="347.0" r="1.55"/><circle cx="415.7" cy="337.3" r="1.55"/><circle cx="391.2" cy="338.6" r="1.55"/><circle cx="374.5" cy="341.8" r="1.55"/><circle cx="366.7" cy="337.3" r="1.55"/><circle cx="393.9" cy="331.5" r="1.55"/><circle cx="386.1" cy="339.0" r="1.55"/><circle cx="390.6" cy="341.5" r="1.55"/><circle cx="366.0" cy="329.6" r="1.55"/><circle cx="382.3" cy="339.1" r="1.55"/><circle cx="379.4" cy="342.6" r="1.55"/><circle cx="376.2" cy="336.6" r="1.55"/><circle cx="363.1" cy="336.5" r="1.55"/><circle cx="382.7" cy="340.1" r="1.55"/><circle cx="397.8" cy="332.9" r="1.55"/><circle cx="391.4" cy="338.7" r="1.55"/><circle cx="379.4" cy="341.3" r="1.55"/><circle cx="405.9" cy="335.0" r="1.55"/><circle cx="396.1" cy="333.1" r="1.55"/><circle cx="363.1" cy="341.0" r="1.55"/><circle cx="385.3" cy="335.6" r="1.55"/><circle cx="393.4" cy="336.9" r="1.55"/><circle cx="395.1" cy="324.5" r="1.55"/><circle cx="420.4" cy="337.2" r="1.55"/><circle cx="401.6" cy="330.2" r="1.55"/><circle cx="390.6" cy="336.9" r="1.55"/><circle cx="390.5" cy="337.2" r="1.55"/><circle cx="396.4" cy="333.3" r="1.55"/><circle cx="380.2" cy="333.5" r="1.55"/><circle cx="386.3" cy="331.6" r="1.55"/><circle cx="397.9" cy="334.9" r="1.55"/><circle cx="410.8" cy="337.4" r="1.55"/><circle cx="384.8" cy="339.3" r="1.55"/><circle cx="386.2" cy="334.8" r="1.55"/><circle cx="389.2" cy="334.3" r="1.55"/><circle cx="403.2" cy="330.0" r="1.55"/><circle cx="386.4" cy="335.2" r="1.55"/><circle cx="404.8" cy="331.4" r="1.55"/><circle cx="374.9" cy="331.2" r="1.55"/><circle cx="384.5" cy="336.4" r="1.55"/><circle cx="384.4" cy="343.3" r="1.55"/><circle cx="396.4" cy="341.3" r="1.55"/><circle cx="399.6" cy="342.2" r="1.55"/><circle cx="368.3" cy="331.3" r="1.55"/><circle cx="428.6" cy="337.1" r="1.55"/><circle cx="390.9" cy="331.5" r="1.55"/><circle cx="378.7" cy="334.9" r="1.55"/><circle cx="368.1" cy="330.8" r="1.55"/><circle cx="411.6" cy="332.3" r="1.55"/><circle cx="392.8" cy="337.0" r="1.55"/><circle cx="392.8" cy="337.4" r="1.55"/><circle cx="381.0" cy="336.9" r="1.55"/><circle cx="419.2" cy="334.4" r="1.55"/><circle cx="383.8" cy="339.3" r="1.55"/><circle cx="400.2" cy="336.3" r="1.55"/><circle cx="429.7" cy="329.3" r="1.55"/><circle cx="376.3" cy="344.7" r="1.55"/><circle cx="389.3" cy="335.7" r="1.55"/></g>
<text x="370.9" y="364.3" font-size="11" fill="#111"><tspan font-style="italic">r</tspan> = 0.09</text>
<text x="394.3" y="399.2" font-size="11" fill="#111" text-anchor="middle">⟨<tspan font-style="italic">r</tspan><tspan font-size="8.3" dy="2.6">in</tspan><tspan dy="-2.6">⟩</tspan></text>
<text transform="translate(321.5,328.2) rotate(-90)" font-size="11" fill="#111" text-anchor="middle">⟨<tspan font-style="italic">r</tspan><tspan font-size="8.3" dy="2.6">hid</tspan><tspan dy="-2.6">⟩</tspan></text>
<path d="M506.3,287.6V369H587.9" fill="none" stroke="#222" stroke-width="1.5"/>
<path d="M506.3,369v3.7" stroke="#222" stroke-width="1.5"/>
<text x="506.3" y="387.6" font-size="10.3" text-anchor="middle" fill="#111" >0</text>
<path d="M587.9,369v3.7" stroke="#222" stroke-width="1.5"/>
<text x="587.9" y="387.6" font-size="10.3" text-anchor="middle" fill="#111" >0.5</text>
<path d="M506.3,287.6h-3.9" stroke="#222" stroke-width="1.5"/>
<text x="497.0" y="292.0" font-size="10.3" text-anchor="end" fill="#111" >10</text>
<path d="M506.3,369h-3.9" stroke="#222" stroke-width="1.5"/>
<text x="497.0" y="373.4" font-size="10.3" text-anchor="end" fill="#111" >0</text>
<g fill="#219a23"><circle cx="534.7" cy="343.4" r="1.55"/><circle cx="535.2" cy="342.3" r="1.55"/><circle cx="521.2" cy="346.0" r="1.55"/><circle cx="534.0" cy="339.2" r="1.55"/><circle cx="533.1" cy="337.5" r="1.55"/><circle cx="519.8" cy="352.7" r="1.55"/><circle cx="539.4" cy="340.1" r="1.55"/><circle cx="526.1" cy="346.8" r="1.55"/><circle cx="519.4" cy="348.6" r="1.55"/><circle cx="537.5" cy="341.3" r="1.55"/><circle cx="533.0" cy="343.7" r="1.55"/><circle cx="526.4" cy="343.0" r="1.55"/><circle cx="561.4" cy="326.3" r="1.55"/><circle cx="524.0" cy="350.1" r="1.55"/><circle cx="526.5" cy="341.2" r="1.55"/><circle cx="528.4" cy="341.2" r="1.55"/><circle cx="518.8" cy="350.8" r="1.55"/><circle cx="529.2" cy="341.3" r="1.55"/><circle cx="519.3" cy="351.0" r="1.55"/><circle cx="558.9" cy="323.1" r="1.55"/><circle cx="557.1" cy="330.5" r="1.55"/><circle cx="546.0" cy="338.5" r="1.55"/><circle cx="521.1" cy="349.1" r="1.55"/><circle cx="528.1" cy="346.9" r="1.55"/><circle cx="545.9" cy="334.5" r="1.55"/><circle cx="518.0" cy="349.3" r="1.55"/><circle cx="516.7" cy="350.3" r="1.55"/><circle cx="520.4" cy="350.0" r="1.55"/><circle cx="533.5" cy="352.7" r="1.55"/><circle cx="534.0" cy="341.1" r="1.55"/><circle cx="523.5" cy="352.4" r="1.55"/><circle cx="524.6" cy="345.6" r="1.55"/><circle cx="520.7" cy="345.3" r="1.55"/><circle cx="520.1" cy="347.9" r="1.55"/><circle cx="523.9" cy="347.8" r="1.55"/><circle cx="543.8" cy="337.1" r="1.55"/><circle cx="535.0" cy="341.4" r="1.55"/><circle cx="521.4" cy="349.5" r="1.55"/><circle cx="518.4" cy="351.1" r="1.55"/><circle cx="548.9" cy="337.7" r="1.55"/><circle cx="571.0" cy="315.7" r="1.55"/><circle cx="533.0" cy="342.0" r="1.55"/><circle cx="573.7" cy="315.4" r="1.55"/><circle cx="582.4" cy="317.8" r="1.55"/><circle cx="537.7" cy="339.2" r="1.55"/><circle cx="547.6" cy="335.1" r="1.55"/><circle cx="533.2" cy="340.3" r="1.55"/><circle cx="524.9" cy="343.7" r="1.55"/><circle cx="531.9" cy="341.7" r="1.55"/><circle cx="574.5" cy="324.3" r="1.55"/><circle cx="552.0" cy="335.6" r="1.55"/><circle cx="542.6" cy="330.4" r="1.55"/><circle cx="524.0" cy="347.5" r="1.55"/><circle cx="522.2" cy="348.4" r="1.55"/><circle cx="526.2" cy="341.0" r="1.55"/><circle cx="517.4" cy="347.3" r="1.55"/><circle cx="560.6" cy="325.0" r="1.55"/><circle cx="525.8" cy="346.9" r="1.55"/><circle cx="545.4" cy="325.9" r="1.55"/><circle cx="529.3" cy="342.6" r="1.55"/><circle cx="524.0" cy="345.0" r="1.55"/><circle cx="539.8" cy="339.1" r="1.55"/><circle cx="544.4" cy="341.8" r="1.55"/><circle cx="536.6" cy="344.9" r="1.55"/><circle cx="515.5" cy="350.0" r="1.55"/><circle cx="527.8" cy="343.4" r="1.55"/><circle cx="527.2" cy="345.7" r="1.55"/><circle cx="563.7" cy="332.0" r="1.55"/><circle cx="567.8" cy="331.6" r="1.55"/><circle cx="560.5" cy="329.3" r="1.55"/><circle cx="537.2" cy="345.1" r="1.55"/><circle cx="558.5" cy="324.4" r="1.55"/><circle cx="541.5" cy="333.1" r="1.55"/><circle cx="541.3" cy="326.7" r="1.55"/><circle cx="531.9" cy="339.6" r="1.55"/><circle cx="522.5" cy="349.1" r="1.55"/><circle cx="537.2" cy="343.0" r="1.55"/><circle cx="563.1" cy="343.8" r="1.55"/><circle cx="537.6" cy="341.8" r="1.55"/><circle cx="518.1" cy="350.1" r="1.55"/><circle cx="541.4" cy="333.9" r="1.55"/><circle cx="541.7" cy="335.1" r="1.55"/><circle cx="517.4" cy="348.6" r="1.55"/><circle cx="545.8" cy="334.4" r="1.55"/><circle cx="518.8" cy="347.6" r="1.55"/><circle cx="517.1" cy="346.5" r="1.55"/><circle cx="534.8" cy="344.8" r="1.55"/><circle cx="582.5" cy="319.1" r="1.55"/><circle cx="531.8" cy="347.2" r="1.55"/><circle cx="543.1" cy="330.3" r="1.55"/><circle cx="573.0" cy="313.9" r="1.55"/><circle cx="522.7" cy="345.2" r="1.55"/><circle cx="521.2" cy="351.4" r="1.55"/><circle cx="562.1" cy="326.0" r="1.55"/><circle cx="517.5" cy="350.6" r="1.55"/><circle cx="532.0" cy="342.2" r="1.55"/><circle cx="531.5" cy="343.4" r="1.55"/><circle cx="517.2" cy="348.8" r="1.55"/><circle cx="574.1" cy="322.9" r="1.55"/><circle cx="529.5" cy="341.0" r="1.55"/><circle cx="529.3" cy="343.1" r="1.55"/><circle cx="533.8" cy="342.6" r="1.55"/><circle cx="554.4" cy="331.4" r="1.55"/><circle cx="530.0" cy="345.0" r="1.55"/><circle cx="520.3" cy="346.3" r="1.55"/><circle cx="532.4" cy="343.2" r="1.55"/><circle cx="534.9" cy="339.9" r="1.55"/><circle cx="554.7" cy="332.5" r="1.55"/><circle cx="562.9" cy="334.0" r="1.55"/><circle cx="532.9" cy="338.9" r="1.55"/><circle cx="554.6" cy="335.6" r="1.55"/><circle cx="521.1" cy="346.2" r="1.55"/><circle cx="532.8" cy="340.6" r="1.55"/><circle cx="574.5" cy="329.9" r="1.55"/><circle cx="551.9" cy="336.4" r="1.55"/><circle cx="530.2" cy="345.1" r="1.55"/><circle cx="551.9" cy="335.8" r="1.55"/><circle cx="540.1" cy="342.8" r="1.55"/><circle cx="538.8" cy="336.2" r="1.55"/><circle cx="532.7" cy="342.9" r="1.55"/><circle cx="539.8" cy="337.0" r="1.55"/><circle cx="554.3" cy="332.9" r="1.55"/><circle cx="518.9" cy="348.5" r="1.55"/><circle cx="563.7" cy="329.9" r="1.55"/><circle cx="545.4" cy="335.7" r="1.55"/><circle cx="536.1" cy="338.3" r="1.55"/><circle cx="529.5" cy="343.6" r="1.55"/><circle cx="563.6" cy="328.4" r="1.55"/><circle cx="516.8" cy="352.7" r="1.55"/><circle cx="566.8" cy="323.5" r="1.55"/><circle cx="532.2" cy="341.2" r="1.55"/><circle cx="553.5" cy="332.5" r="1.55"/><circle cx="525.6" cy="348.1" r="1.55"/><circle cx="541.1" cy="335.7" r="1.55"/><circle cx="523.1" cy="339.9" r="1.55"/><circle cx="544.5" cy="337.2" r="1.55"/><circle cx="525.7" cy="344.7" r="1.55"/><circle cx="531.7" cy="341.4" r="1.55"/><circle cx="536.8" cy="349.3" r="1.55"/><circle cx="518.2" cy="349.3" r="1.55"/><circle cx="538.7" cy="341.7" r="1.55"/><circle cx="523.3" cy="343.0" r="1.55"/><circle cx="531.3" cy="343.7" r="1.55"/><circle cx="565.6" cy="329.1" r="1.55"/><circle cx="517.6" cy="350.5" r="1.55"/><circle cx="539.7" cy="337.9" r="1.55"/><circle cx="530.3" cy="345.2" r="1.55"/><circle cx="548.4" cy="334.2" r="1.55"/><circle cx="523.9" cy="350.6" r="1.55"/><circle cx="534.3" cy="342.1" r="1.55"/><circle cx="524.9" cy="343.8" r="1.55"/><circle cx="566.9" cy="314.0" r="1.55"/><circle cx="526.9" cy="342.9" r="1.55"/><circle cx="545.3" cy="334.5" r="1.55"/><circle cx="535.0" cy="336.7" r="1.55"/><circle cx="537.9" cy="335.7" r="1.55"/><circle cx="561.1" cy="319.1" r="1.55"/><circle cx="537.0" cy="335.9" r="1.55"/><circle cx="530.6" cy="343.6" r="1.55"/><circle cx="521.8" cy="347.1" r="1.55"/><circle cx="544.9" cy="335.0" r="1.55"/><circle cx="543.4" cy="335.4" r="1.55"/><circle cx="539.8" cy="337.7" r="1.55"/><circle cx="522.9" cy="349.4" r="1.55"/><circle cx="523.1" cy="352.7" r="1.55"/><circle cx="564.0" cy="329.3" r="1.55"/><circle cx="531.2" cy="349.6" r="1.55"/><circle cx="540.4" cy="337.9" r="1.55"/><circle cx="537.9" cy="339.4" r="1.55"/><circle cx="529.7" cy="349.1" r="1.55"/><circle cx="516.9" cy="348.6" r="1.55"/><circle cx="547.9" cy="330.6" r="1.55"/><circle cx="582.7" cy="315.6" r="1.55"/><circle cx="533.5" cy="335.9" r="1.55"/><circle cx="520.5" cy="343.3" r="1.55"/><circle cx="519.5" cy="352.2" r="1.55"/><circle cx="531.4" cy="339.3" r="1.55"/><circle cx="530.9" cy="341.6" r="1.55"/><circle cx="536.7" cy="338.6" r="1.55"/><circle cx="531.0" cy="339.9" r="1.55"/><circle cx="539.1" cy="341.5" r="1.55"/><circle cx="531.5" cy="344.7" r="1.55"/><circle cx="579.4" cy="322.8" r="1.55"/><circle cx="555.5" cy="333.8" r="1.55"/><circle cx="522.0" cy="347.9" r="1.55"/><circle cx="517.6" cy="352.7" r="1.55"/><circle cx="562.8" cy="331.8" r="1.55"/><circle cx="575.1" cy="316.8" r="1.55"/><circle cx="532.6" cy="342.4" r="1.55"/><circle cx="566.0" cy="322.8" r="1.55"/><circle cx="540.3" cy="345.4" r="1.55"/><circle cx="539.2" cy="341.7" r="1.55"/><circle cx="540.9" cy="340.0" r="1.55"/><circle cx="527.4" cy="344.8" r="1.55"/><circle cx="528.6" cy="346.1" r="1.55"/><circle cx="519.0" cy="346.7" r="1.55"/><circle cx="515.6" cy="351.1" r="1.55"/><circle cx="536.0" cy="340.3" r="1.55"/><circle cx="527.3" cy="344.9" r="1.55"/><circle cx="558.6" cy="325.3" r="1.55"/><circle cx="537.1" cy="341.5" r="1.55"/><circle cx="523.8" cy="343.4" r="1.55"/><circle cx="521.1" cy="346.9" r="1.55"/><circle cx="521.8" cy="347.3" r="1.55"/><circle cx="541.3" cy="337.5" r="1.55"/><circle cx="527.8" cy="343.1" r="1.55"/><circle cx="519.1" cy="346.5" r="1.55"/><circle cx="529.1" cy="341.0" r="1.55"/><circle cx="544.3" cy="334.6" r="1.55"/><circle cx="540.4" cy="334.8" r="1.55"/><circle cx="522.9" cy="346.9" r="1.55"/><circle cx="535.7" cy="336.1" r="1.55"/><circle cx="577.7" cy="319.0" r="1.55"/><circle cx="537.8" cy="347.1" r="1.55"/><circle cx="537.2" cy="334.9" r="1.55"/><circle cx="535.6" cy="340.2" r="1.55"/><circle cx="521.6" cy="351.2" r="1.55"/><circle cx="538.3" cy="339.9" r="1.55"/><circle cx="536.9" cy="343.1" r="1.55"/><circle cx="521.8" cy="341.9" r="1.55"/><circle cx="539.1" cy="336.9" r="1.55"/><circle cx="576.0" cy="328.7" r="1.55"/><circle cx="548.2" cy="331.7" r="1.55"/><circle cx="533.2" cy="343.2" r="1.55"/><circle cx="530.5" cy="337.0" r="1.55"/><circle cx="582.2" cy="322.9" r="1.55"/><circle cx="523.7" cy="352.7" r="1.55"/><circle cx="520.2" cy="348.4" r="1.55"/><circle cx="556.9" cy="331.2" r="1.55"/><circle cx="536.3" cy="341.8" r="1.55"/><circle cx="553.4" cy="341.1" r="1.55"/><circle cx="552.1" cy="330.2" r="1.55"/><circle cx="540.0" cy="332.0" r="1.55"/><circle cx="536.2" cy="347.2" r="1.55"/><circle cx="517.2" cy="347.2" r="1.55"/><circle cx="520.5" cy="350.0" r="1.55"/><circle cx="558.4" cy="317.5" r="1.55"/><circle cx="521.8" cy="346.5" r="1.55"/><circle cx="567.4" cy="325.1" r="1.55"/><circle cx="530.4" cy="339.7" r="1.55"/><circle cx="522.0" cy="346.2" r="1.55"/><circle cx="561.0" cy="330.4" r="1.55"/><circle cx="519.7" cy="347.0" r="1.55"/><circle cx="564.0" cy="328.5" r="1.55"/><circle cx="566.3" cy="334.1" r="1.55"/><circle cx="567.8" cy="313.1" r="1.55"/><circle cx="529.5" cy="344.9" r="1.55"/><circle cx="553.5" cy="334.1" r="1.55"/><circle cx="530.0" cy="342.4" r="1.55"/><circle cx="528.1" cy="349.4" r="1.55"/><circle cx="521.7" cy="351.6" r="1.55"/><circle cx="541.6" cy="339.5" r="1.55"/><circle cx="515.7" cy="352.2" r="1.55"/><circle cx="520.9" cy="348.1" r="1.55"/><circle cx="564.6" cy="319.8" r="1.55"/><circle cx="528.0" cy="346.1" r="1.55"/><circle cx="526.7" cy="343.7" r="1.55"/><circle cx="524.6" cy="344.6" r="1.55"/><circle cx="543.7" cy="340.8" r="1.55"/><circle cx="532.2" cy="341.6" r="1.55"/><circle cx="536.7" cy="343.4" r="1.55"/><circle cx="536.8" cy="336.1" r="1.55"/><circle cx="545.2" cy="333.8" r="1.55"/><circle cx="526.3" cy="345.4" r="1.55"/><circle cx="536.8" cy="344.8" r="1.55"/><circle cx="520.4" cy="348.2" r="1.55"/><circle cx="516.6" cy="352.4" r="1.55"/><circle cx="517.1" cy="348.4" r="1.55"/><circle cx="515.3" cy="351.4" r="1.55"/><circle cx="538.9" cy="341.9" r="1.55"/><circle cx="517.9" cy="347.4" r="1.55"/><circle cx="518.5" cy="347.6" r="1.55"/><circle cx="521.1" cy="349.8" r="1.55"/><circle cx="522.5" cy="344.1" r="1.55"/><circle cx="534.3" cy="342.3" r="1.55"/><circle cx="525.9" cy="346.6" r="1.55"/><circle cx="516.4" cy="350.3" r="1.55"/><circle cx="527.3" cy="347.3" r="1.55"/><circle cx="517.8" cy="351.0" r="1.55"/><circle cx="528.2" cy="344.9" r="1.55"/><circle cx="557.8" cy="321.8" r="1.55"/><circle cx="543.5" cy="330.5" r="1.55"/><circle cx="524.8" cy="347.0" r="1.55"/><circle cx="516.4" cy="346.5" r="1.55"/><circle cx="561.8" cy="327.3" r="1.55"/><circle cx="522.1" cy="346.5" r="1.55"/><circle cx="545.3" cy="331.9" r="1.55"/><circle cx="572.0" cy="320.1" r="1.55"/><circle cx="521.8" cy="341.0" r="1.55"/><circle cx="545.2" cy="334.6" r="1.55"/><circle cx="515.7" cy="352.7" r="1.55"/><circle cx="559.8" cy="321.7" r="1.55"/><circle cx="534.0" cy="342.9" r="1.55"/><circle cx="530.0" cy="344.5" r="1.55"/><circle cx="536.5" cy="350.9" r="1.55"/><circle cx="553.8" cy="326.6" r="1.55"/><circle cx="522.3" cy="345.2" r="1.55"/><circle cx="516.5" cy="348.5" r="1.55"/><circle cx="534.9" cy="337.5" r="1.55"/><circle cx="541.9" cy="330.7" r="1.55"/><circle cx="538.9" cy="339.1" r="1.55"/><circle cx="522.6" cy="344.7" r="1.55"/><circle cx="529.5" cy="346.2" r="1.55"/><circle cx="518.2" cy="350.6" r="1.55"/><circle cx="517.4" cy="347.3" r="1.55"/><circle cx="522.7" cy="346.2" r="1.55"/><circle cx="529.8" cy="347.9" r="1.55"/><circle cx="523.5" cy="345.9" r="1.55"/><circle cx="531.1" cy="343.5" r="1.55"/><circle cx="526.5" cy="347.8" r="1.55"/><circle cx="547.4" cy="332.6" r="1.55"/><circle cx="556.2" cy="331.8" r="1.55"/><circle cx="517.7" cy="352.7" r="1.55"/><circle cx="524.1" cy="349.8" r="1.55"/><circle cx="525.7" cy="340.4" r="1.55"/><circle cx="535.5" cy="346.1" r="1.55"/><circle cx="518.4" cy="349.0" r="1.55"/><circle cx="537.3" cy="337.5" r="1.55"/><circle cx="566.1" cy="321.4" r="1.55"/><circle cx="517.4" cy="352.7" r="1.55"/><circle cx="518.7" cy="350.2" r="1.55"/><circle cx="523.1" cy="346.7" r="1.55"/><circle cx="520.5" cy="346.3" r="1.55"/><circle cx="548.2" cy="336.8" r="1.55"/><circle cx="527.9" cy="348.2" r="1.55"/><circle cx="521.4" cy="345.2" r="1.55"/><circle cx="518.5" cy="346.6" r="1.55"/><circle cx="536.2" cy="339.0" r="1.55"/><circle cx="541.1" cy="340.1" r="1.55"/><circle cx="538.4" cy="337.6" r="1.55"/></g>
<text x="523.3" y="365" font-size="11" fill="#111"><tspan font-style="italic">r</tspan> = 0.81</text>
<text x="547" y="399.2" font-size="11" fill="#111" text-anchor="middle">⟨<tspan font-style="italic">r</tspan><tspan font-size="8.3" dy="2.6">in</tspan><tspan dy="-2.6">⟩</tspan></text>
<text transform="translate(474.3,328) rotate(-90)" font-size="11" fill="#111" text-anchor="middle"><tspan font-family="Liberation Serif" font-style="italic">κ</tspan> (<tspan font-style="italic">r</tspan><tspan font-size="8.3" dy="2.6">hid</tspan><tspan dy="-2.6">)</tspan></text>
<text x="590.7" y="332.6" font-size="10.9" fill="#219a23">Coord. transform.</text>
<path d="M353.7,431.8V514H436.2" fill="none" stroke="#222" stroke-width="1.5"/>
<path d="M353.7,514v3.7" stroke="#222" stroke-width="1.5"/>
<text x="353.7" y="532.6" font-size="10.3" text-anchor="middle" fill="#111" >0</text>
<path d="M436.2,514v3.7" stroke="#222" stroke-width="1.5"/>
<text x="436.2" y="532.6" font-size="10.3" text-anchor="middle" fill="#111" >1</text>
<path d="M353.7,431.8h-3.9" stroke="#222" stroke-width="1.5"/>
<text x="343.9" y="436.2" font-size="10.3" text-anchor="end" fill="#111" >1.5</text>
<path d="M353.7,514h-3.9" stroke="#222" stroke-width="1.5"/>
<text x="343.9" y="518.4" font-size="10.3" text-anchor="end" fill="#111" >0</text>
<g fill="#811a8c"><circle cx="409.0" cy="481.0" r="1.55"/><circle cx="384.9" cy="488.6" r="1.55"/><circle cx="405.6" cy="489.4" r="1.55"/><circle cx="383.8" cy="502.0" r="1.55"/><circle cx="367.7" cy="500.6" r="1.55"/><circle cx="388.5" cy="467.3" r="1.55"/><circle cx="368.2" cy="503.3" r="1.55"/><circle cx="393.6" cy="485.8" r="1.55"/><circle cx="368.2" cy="504.6" r="1.55"/><circle cx="394.4" cy="485.5" r="1.55"/><circle cx="401.4" cy="489.7" r="1.55"/><circle cx="394.0" cy="482.9" r="1.55"/><circle cx="403.1" cy="478.9" r="1.55"/><circle cx="393.6" cy="465.4" r="1.55"/><circle cx="407.1" cy="484.8" r="1.55"/><circle cx="378.3" cy="476.7" r="1.55"/><circle cx="386.7" cy="492.3" r="1.55"/><circle cx="393.9" cy="484.5" r="1.55"/><circle cx="370.5" cy="505.9" r="1.55"/><circle cx="394.8" cy="466.2" r="1.55"/><circle cx="413.0" cy="488.2" r="1.55"/><circle cx="405.3" cy="485.7" r="1.55"/><circle cx="380.8" cy="497.5" r="1.55"/><circle cx="405.2" cy="473.8" r="1.55"/><circle cx="381.3" cy="495.5" r="1.55"/><circle cx="388.9" cy="491.1" r="1.55"/><circle cx="409.8" cy="486.0" r="1.55"/><circle cx="374.9" cy="494.7" r="1.55"/><circle cx="365.7" cy="508.0" r="1.55"/><circle cx="393.6" cy="485.3" r="1.55"/><circle cx="391.7" cy="451.1" r="1.55"/><circle cx="373.9" cy="500.6" r="1.55"/><circle cx="396.8" cy="488.4" r="1.55"/><circle cx="391.7" cy="487.8" r="1.55"/><circle cx="380.2" cy="499.4" r="1.55"/><circle cx="398.5" cy="487.6" r="1.55"/><circle cx="397.4" cy="483.6" r="1.55"/><circle cx="386.0" cy="492.7" r="1.55"/><circle cx="370.8" cy="499.2" r="1.55"/><circle cx="394.3" cy="488.6" r="1.55"/><circle cx="378.1" cy="496.0" r="1.55"/><circle cx="370.5" cy="500.5" r="1.55"/><circle cx="371.3" cy="495.1" r="1.55"/><circle cx="374.0" cy="496.4" r="1.55"/><circle cx="384.6" cy="495.2" r="1.55"/><circle cx="389.6" cy="502.6" r="1.55"/><circle cx="398.0" cy="484.5" r="1.55"/><circle cx="413.5" cy="472.5" r="1.55"/><circle cx="370.5" cy="503.9" r="1.55"/><circle cx="385.7" cy="502.1" r="1.55"/><circle cx="370.7" cy="504.7" r="1.55"/><circle cx="382.1" cy="491.5" r="1.55"/><circle cx="372.6" cy="503.6" r="1.55"/><circle cx="394.7" cy="491.6" r="1.55"/><circle cx="395.2" cy="488.2" r="1.55"/><circle cx="418.7" cy="471.3" r="1.55"/><circle cx="396.6" cy="472.1" r="1.55"/><circle cx="392.7" cy="490.9" r="1.55"/><circle cx="398.6" cy="490.3" r="1.55"/><circle cx="377.9" cy="490.9" r="1.55"/><circle cx="379.5" cy="492.3" r="1.55"/><circle cx="405.0" cy="485.1" r="1.55"/><circle cx="396.5" cy="495.2" r="1.55"/><circle cx="373.5" cy="502.2" r="1.55"/><circle cx="399.7" cy="475.8" r="1.55"/><circle cx="404.6" cy="479.7" r="1.55"/><circle cx="384.2" cy="490.6" r="1.55"/><circle cx="406.0" cy="482.3" r="1.55"/><circle cx="413.3" cy="479.2" r="1.55"/><circle cx="408.9" cy="479.4" r="1.55"/><circle cx="391.5" cy="488.7" r="1.55"/><circle cx="406.0" cy="488.6" r="1.55"/><circle cx="369.4" cy="502.4" r="1.55"/><circle cx="398.1" cy="476.6" r="1.55"/><circle cx="388.1" cy="497.8" r="1.55"/><circle cx="396.4" cy="486.2" r="1.55"/><circle cx="368.8" cy="497.8" r="1.55"/><circle cx="406.8" cy="479.0" r="1.55"/><circle cx="379.7" cy="499.7" r="1.55"/><circle cx="376.8" cy="502.9" r="1.55"/><circle cx="406.7" cy="474.1" r="1.55"/><circle cx="370.8" cy="497.0" r="1.55"/><circle cx="379.4" cy="489.4" r="1.55"/><circle cx="380.1" cy="493.2" r="1.55"/><circle cx="387.7" cy="488.2" r="1.55"/><circle cx="376.7" cy="501.8" r="1.55"/><circle cx="391.9" cy="485.8" r="1.55"/><circle cx="366.3" cy="504.9" r="1.55"/><circle cx="372.4" cy="499.2" r="1.55"/><circle cx="396.6" cy="481.6" r="1.55"/><circle cx="401.3" cy="481.1" r="1.55"/><circle cx="373.1" cy="503.1" r="1.55"/><circle cx="420.7" cy="470.0" r="1.55"/><circle cx="411.6" cy="484.2" r="1.55"/><circle cx="385.3" cy="498.2" r="1.55"/><circle cx="399.1" cy="488.3" r="1.55"/><circle cx="410.9" cy="489.8" r="1.55"/><circle cx="403.2" cy="485.5" r="1.55"/><circle cx="372.3" cy="498.8" r="1.55"/><circle cx="400.4" cy="486.8" r="1.55"/><circle cx="413.2" cy="477.9" r="1.55"/><circle cx="385.1" cy="490.8" r="1.55"/><circle cx="392.6" cy="490.4" r="1.55"/><circle cx="405.0" cy="486.9" r="1.55"/><circle cx="377.3" cy="497.4" r="1.55"/><circle cx="393.3" cy="494.0" r="1.55"/><circle cx="369.3" cy="502.8" r="1.55"/><circle cx="405.7" cy="484.8" r="1.55"/><circle cx="392.4" cy="489.6" r="1.55"/><circle cx="383.7" cy="495.6" r="1.55"/><circle cx="393.3" cy="486.7" r="1.55"/><circle cx="407.6" cy="485.0" r="1.55"/><circle cx="393.8" cy="487.7" r="1.55"/><circle cx="395.2" cy="487.5" r="1.55"/><circle cx="378.7" cy="493.4" r="1.55"/><circle cx="384.1" cy="489.0" r="1.55"/><circle cx="378.1" cy="495.2" r="1.55"/><circle cx="402.3" cy="486.0" r="1.55"/><circle cx="384.0" cy="498.7" r="1.55"/><circle cx="387.4" cy="496.9" r="1.55"/><circle cx="409.6" cy="485.0" r="1.55"/><circle cx="404.2" cy="483.7" r="1.55"/><circle cx="399.8" cy="486.0" r="1.55"/><circle cx="410.8" cy="481.9" r="1.55"/><circle cx="378.6" cy="497.6" r="1.55"/><circle cx="390.4" cy="488.0" r="1.55"/><circle cx="406.1" cy="483.1" r="1.55"/><circle cx="399.9" cy="485.6" r="1.55"/><circle cx="383.5" cy="488.6" r="1.55"/><circle cx="399.6" cy="489.8" r="1.55"/><circle cx="396.1" cy="493.6" r="1.55"/><circle cx="399.6" cy="484.8" r="1.55"/><circle cx="394.9" cy="487.4" r="1.55"/><circle cx="411.2" cy="483.0" r="1.55"/><circle cx="386.0" cy="495.3" r="1.55"/><circle cx="386.1" cy="483.7" r="1.55"/><circle cx="381.7" cy="498.6" r="1.55"/><circle cx="402.1" cy="487.1" r="1.55"/><circle cx="376.9" cy="496.7" r="1.55"/><circle cx="381.4" cy="500.3" r="1.55"/><circle cx="385.4" cy="493.3" r="1.55"/><circle cx="367.3" cy="496.1" r="1.55"/><circle cx="408.1" cy="478.3" r="1.55"/><circle cx="374.8" cy="496.3" r="1.55"/><circle cx="372.4" cy="497.7" r="1.55"/><circle cx="380.3" cy="495.7" r="1.55"/><circle cx="384.5" cy="490.2" r="1.55"/><circle cx="388.1" cy="480.8" r="1.55"/><circle cx="391.0" cy="493.0" r="1.55"/><circle cx="392.9" cy="489.8" r="1.55"/><circle cx="379.4" cy="493.0" r="1.55"/><circle cx="372.4" cy="498.6" r="1.55"/><circle cx="415.6" cy="475.9" r="1.55"/><circle cx="405.1" cy="495.0" r="1.55"/><circle cx="392.6" cy="485.0" r="1.55"/><circle cx="366.4" cy="494.7" r="1.55"/><circle cx="386.9" cy="487.3" r="1.55"/><circle cx="387.1" cy="494.4" r="1.55"/><circle cx="374.1" cy="502.2" r="1.55"/><circle cx="375.8" cy="497.2" r="1.55"/><circle cx="370.3" cy="504.3" r="1.55"/><circle cx="365.9" cy="500.4" r="1.55"/><circle cx="399.7" cy="489.7" r="1.55"/><circle cx="394.0" cy="485.4" r="1.55"/><circle cx="374.4" cy="493.8" r="1.55"/><circle cx="400.7" cy="496.7" r="1.55"/><circle cx="375.3" cy="497.4" r="1.55"/><circle cx="410.7" cy="485.8" r="1.55"/><circle cx="396.2" cy="495.4" r="1.55"/><circle cx="377.8" cy="499.7" r="1.55"/><circle cx="383.6" cy="495.5" r="1.55"/><circle cx="392.9" cy="485.6" r="1.55"/><circle cx="382.8" cy="501.2" r="1.55"/><circle cx="387.3" cy="488.4" r="1.55"/><circle cx="400.7" cy="469.3" r="1.55"/><circle cx="407.2" cy="476.4" r="1.55"/><circle cx="380.1" cy="476.0" r="1.55"/><circle cx="387.3" cy="493.0" r="1.55"/><circle cx="411.7" cy="487.9" r="1.55"/><circle cx="371.8" cy="498.2" r="1.55"/><circle cx="372.1" cy="498.6" r="1.55"/><circle cx="371.9" cy="497.4" r="1.55"/><circle cx="381.7" cy="485.1" r="1.55"/><circle cx="409.8" cy="478.6" r="1.55"/><circle cx="391.5" cy="489.0" r="1.55"/><circle cx="410.4" cy="473.8" r="1.55"/><circle cx="381.6" cy="501.0" r="1.55"/><circle cx="401.1" cy="492.1" r="1.55"/><circle cx="378.0" cy="498.7" r="1.55"/><circle cx="402.6" cy="489.0" r="1.55"/><circle cx="385.6" cy="490.8" r="1.55"/><circle cx="372.4" cy="501.0" r="1.55"/><circle cx="375.9" cy="491.6" r="1.55"/><circle cx="391.0" cy="484.4" r="1.55"/><circle cx="365.6" cy="500.4" r="1.55"/><circle cx="401.2" cy="488.4" r="1.55"/><circle cx="389.9" cy="488.9" r="1.55"/><circle cx="370.9" cy="497.6" r="1.55"/><circle cx="380.7" cy="500.3" r="1.55"/><circle cx="363.9" cy="502.6" r="1.55"/><circle cx="370.1" cy="498.4" r="1.55"/><circle cx="421.9" cy="447.6" r="1.55"/><circle cx="387.3" cy="486.1" r="1.55"/><circle cx="396.4" cy="482.9" r="1.55"/><circle cx="384.2" cy="497.8" r="1.55"/><circle cx="392.3" cy="490.0" r="1.55"/><circle cx="398.0" cy="491.9" r="1.55"/><circle cx="412.9" cy="477.8" r="1.55"/><circle cx="383.5" cy="498.2" r="1.55"/><circle cx="382.4" cy="474.9" r="1.55"/><circle cx="374.1" cy="497.6" r="1.55"/><circle cx="415.1" cy="474.6" r="1.55"/><circle cx="414.5" cy="473.6" r="1.55"/><circle cx="377.9" cy="502.9" r="1.55"/><circle cx="393.7" cy="481.8" r="1.55"/><circle cx="385.4" cy="485.8" r="1.55"/><circle cx="384.9" cy="488.2" r="1.55"/><circle cx="393.9" cy="487.8" r="1.55"/><circle cx="372.4" cy="497.4" r="1.55"/><circle cx="397.5" cy="479.4" r="1.55"/><circle cx="380.3" cy="459.0" r="1.55"/><circle cx="391.9" cy="484.4" r="1.55"/><circle cx="365.2" cy="508.0" r="1.55"/><circle cx="411.2" cy="477.1" r="1.55"/><circle cx="391.0" cy="492.3" r="1.55"/><circle cx="413.2" cy="446.0" r="1.55"/><circle cx="394.7" cy="473.0" r="1.55"/><circle cx="372.4" cy="498.6" r="1.55"/><circle cx="388.8" cy="484.9" r="1.55"/><circle cx="364.9" cy="508.0" r="1.55"/><circle cx="376.8" cy="497.6" r="1.55"/><circle cx="399.9" cy="490.5" r="1.55"/><circle cx="378.1" cy="492.6" r="1.55"/><circle cx="394.0" cy="453.3" r="1.55"/><circle cx="366.2" cy="501.2" r="1.55"/><circle cx="399.1" cy="489.3" r="1.55"/><circle cx="386.0" cy="490.7" r="1.55"/><circle cx="395.2" cy="484.5" r="1.55"/><circle cx="404.4" cy="466.5" r="1.55"/><circle cx="384.9" cy="493.8" r="1.55"/><circle cx="386.1" cy="499.5" r="1.55"/><circle cx="417.9" cy="477.0" r="1.55"/><circle cx="386.1" cy="489.8" r="1.55"/><circle cx="371.8" cy="502.1" r="1.55"/><circle cx="374.4" cy="494.7" r="1.55"/><circle cx="369.3" cy="508.0" r="1.55"/><circle cx="373.5" cy="506.2" r="1.55"/><circle cx="390.2" cy="497.7" r="1.55"/><circle cx="391.8" cy="493.0" r="1.55"/><circle cx="415.6" cy="479.6" r="1.55"/><circle cx="405.6" cy="484.8" r="1.55"/><circle cx="371.9" cy="500.3" r="1.55"/><circle cx="388.8" cy="489.0" r="1.55"/><circle cx="397.3" cy="490.5" r="1.55"/><circle cx="389.3" cy="497.0" r="1.55"/><circle cx="371.7" cy="504.6" r="1.55"/><circle cx="387.3" cy="483.8" r="1.55"/><circle cx="380.3" cy="505.6" r="1.55"/><circle cx="371.6" cy="500.8" r="1.55"/><circle cx="379.1" cy="491.0" r="1.55"/><circle cx="404.1" cy="481.8" r="1.55"/><circle cx="393.5" cy="493.8" r="1.55"/><circle cx="363.9" cy="503.8" r="1.55"/><circle cx="392.7" cy="469.3" r="1.55"/><circle cx="371.2" cy="496.1" r="1.55"/><circle cx="368.5" cy="504.7" r="1.55"/><circle cx="403.3" cy="481.6" r="1.55"/><circle cx="413.7" cy="465.9" r="1.55"/><circle cx="374.3" cy="494.8" r="1.55"/><circle cx="400.5" cy="480.0" r="1.55"/><circle cx="370.1" cy="502.1" r="1.55"/><circle cx="409.9" cy="490.1" r="1.55"/><circle cx="405.0" cy="471.9" r="1.55"/><circle cx="393.8" cy="481.7" r="1.55"/><circle cx="398.5" cy="484.4" r="1.55"/><circle cx="395.3" cy="488.1" r="1.55"/><circle cx="379.5" cy="487.0" r="1.55"/><circle cx="382.0" cy="499.6" r="1.55"/><circle cx="372.4" cy="496.5" r="1.55"/><circle cx="419.9" cy="481.1" r="1.55"/><circle cx="392.4" cy="490.3" r="1.55"/><circle cx="397.6" cy="487.7" r="1.55"/><circle cx="377.0" cy="462.7" r="1.55"/><circle cx="405.2" cy="479.8" r="1.55"/><circle cx="379.2" cy="498.8" r="1.55"/><circle cx="381.3" cy="502.1" r="1.55"/><circle cx="392.8" cy="488.1" r="1.55"/><circle cx="385.2" cy="495.8" r="1.55"/><circle cx="389.8" cy="489.9" r="1.55"/><circle cx="371.2" cy="504.2" r="1.55"/><circle cx="383.5" cy="494.0" r="1.55"/><circle cx="373.7" cy="495.4" r="1.55"/><circle cx="421.3" cy="478.1" r="1.55"/><circle cx="390.3" cy="488.7" r="1.55"/><circle cx="384.9" cy="491.8" r="1.55"/><circle cx="375.0" cy="499.9" r="1.55"/><circle cx="365.5" cy="508.0" r="1.55"/><circle cx="386.6" cy="489.0" r="1.55"/><circle cx="408.8" cy="482.0" r="1.55"/><circle cx="398.8" cy="482.8" r="1.55"/><circle cx="398.3" cy="497.5" r="1.55"/><circle cx="365.3" cy="508.0" r="1.55"/><circle cx="403.1" cy="496.3" r="1.55"/><circle cx="398.5" cy="491.9" r="1.55"/><circle cx="387.8" cy="488.1" r="1.55"/><circle cx="371.8" cy="498.0" r="1.55"/><circle cx="408.9" cy="474.4" r="1.55"/><circle cx="389.6" cy="491.3" r="1.55"/><circle cx="373.5" cy="496.5" r="1.55"/><circle cx="375.5" cy="499.5" r="1.55"/><circle cx="407.7" cy="481.4" r="1.55"/><circle cx="372.7" cy="499.2" r="1.55"/><circle cx="367.6" cy="508.0" r="1.55"/><circle cx="409.3" cy="484.7" r="1.55"/><circle cx="379.3" cy="491.3" r="1.55"/><circle cx="384.2" cy="488.3" r="1.55"/><circle cx="396.8" cy="489.2" r="1.55"/><circle cx="373.9" cy="501.4" r="1.55"/><circle cx="398.7" cy="475.8" r="1.55"/><circle cx="395.2" cy="484.0" r="1.55"/></g>
<text x="386.4" y="510.7" font-size="11" fill="#111"><tspan font-style="italic">r</tspan> = 0.72</text>
<text x="394" y="546" font-size="11" fill="#111" text-anchor="middle">⟨<tspan font-style="italic">r</tspan><tspan font-size="8.3" dy="2.6">in</tspan><tspan dy="-2.6">⟩</tspan></text>
<text transform="translate(322,473.1) rotate(-90)" font-size="11" fill="#111" text-anchor="middle">⟨<tspan font-style="italic">r</tspan><tspan font-size="8.3" dy="2.6">hid</tspan><tspan dy="-2.6">⟩</tspan></text>
<path d="M505.7,432V514H588" fill="none" stroke="#222" stroke-width="1.5"/>
<path d="M505.7,514v3.7" stroke="#222" stroke-width="1.5"/>
<text x="505.7" y="532.6" font-size="10.3" text-anchor="middle" fill="#111" >0</text>
<path d="M588,514v3.7" stroke="#222" stroke-width="1.5"/>
<text x="588" y="532.6" font-size="10.3" text-anchor="middle" fill="#111" >1</text>
<path d="M505.7,432h-3.9" stroke="#222" stroke-width="1.5"/>
<text x="496.4" y="436.4" font-size="10.3" text-anchor="end" fill="#111" >10</text>
<path d="M505.7,514h-3.9" stroke="#222" stroke-width="1.5"/>
<text x="496.4" y="518.4" font-size="10.3" text-anchor="end" fill="#111" >0</text>
<g fill="#811a8c"><circle cx="543.4" cy="472.4" r="1.55"/><circle cx="534.1" cy="478.2" r="1.55"/><circle cx="547.5" cy="470.0" r="1.55"/><circle cx="547.1" cy="479.7" r="1.55"/><circle cx="548.7" cy="470.6" r="1.55"/><circle cx="528.8" cy="463.0" r="1.55"/><circle cx="538.7" cy="469.1" r="1.55"/><circle cx="548.8" cy="456.4" r="1.55"/><circle cx="565.4" cy="459.8" r="1.55"/><circle cx="530.8" cy="474.3" r="1.55"/><circle cx="525.9" cy="463.8" r="1.55"/><circle cx="544.2" cy="472.7" r="1.55"/><circle cx="551.5" cy="469.1" r="1.55"/><circle cx="539.8" cy="470.4" r="1.55"/><circle cx="542.8" cy="469.7" r="1.55"/><circle cx="553.9" cy="471.0" r="1.55"/><circle cx="559.5" cy="476.0" r="1.55"/><circle cx="544.2" cy="474.6" r="1.55"/><circle cx="543.7" cy="467.5" r="1.55"/><circle cx="529.6" cy="471.4" r="1.55"/><circle cx="548.8" cy="478.7" r="1.55"/><circle cx="531.4" cy="475.5" r="1.55"/><circle cx="539.9" cy="475.4" r="1.55"/><circle cx="555.5" cy="471.0" r="1.55"/><circle cx="540.6" cy="469.4" r="1.55"/><circle cx="516.0" cy="470.0" r="1.55"/><circle cx="548.9" cy="475.2" r="1.55"/><circle cx="553.1" cy="470.5" r="1.55"/><circle cx="526.1" cy="480.2" r="1.55"/><circle cx="556.4" cy="486.1" r="1.55"/><circle cx="557.1" cy="471.0" r="1.55"/><circle cx="556.3" cy="482.2" r="1.55"/><circle cx="540.4" cy="477.3" r="1.55"/><circle cx="572.9" cy="479.1" r="1.55"/><circle cx="544.0" cy="466.3" r="1.55"/><circle cx="557.7" cy="473.3" r="1.55"/><circle cx="540.0" cy="468.8" r="1.55"/><circle cx="569.3" cy="474.1" r="1.55"/><circle cx="535.9" cy="479.3" r="1.55"/><circle cx="528.2" cy="481.7" r="1.55"/><circle cx="527.7" cy="467.5" r="1.55"/><circle cx="541.7" cy="448.4" r="1.55"/><circle cx="552.1" cy="465.4" r="1.55"/><circle cx="523.8" cy="458.0" r="1.55"/><circle cx="527.1" cy="448.3" r="1.55"/><circle cx="566.9" cy="466.4" r="1.55"/><circle cx="548.6" cy="471.6" r="1.55"/><circle cx="565.3" cy="470.1" r="1.55"/><circle cx="537.7" cy="473.2" r="1.55"/><circle cx="548.7" cy="477.0" r="1.55"/><circle cx="539.0" cy="456.9" r="1.55"/><circle cx="562.5" cy="483.5" r="1.55"/><circle cx="546.5" cy="469.1" r="1.55"/><circle cx="566.0" cy="467.7" r="1.55"/><circle cx="525.2" cy="469.8" r="1.55"/><circle cx="554.9" cy="477.5" r="1.55"/><circle cx="545.6" cy="464.3" r="1.55"/><circle cx="524.4" cy="474.1" r="1.55"/><circle cx="559.5" cy="478.4" r="1.55"/><circle cx="556.4" cy="471.2" r="1.55"/><circle cx="548.6" cy="473.7" r="1.55"/><circle cx="542.8" cy="469.0" r="1.55"/><circle cx="568.3" cy="457.7" r="1.55"/><circle cx="559.6" cy="478.3" r="1.55"/><circle cx="547.8" cy="467.8" r="1.55"/><circle cx="567.8" cy="475.2" r="1.55"/><circle cx="545.7" cy="468.0" r="1.55"/><circle cx="565.3" cy="470.4" r="1.55"/><circle cx="524.1" cy="469.3" r="1.55"/><circle cx="553.8" cy="477.8" r="1.55"/><circle cx="528.7" cy="476.3" r="1.55"/><circle cx="524.4" cy="476.9" r="1.55"/><circle cx="525.8" cy="469.8" r="1.55"/><circle cx="525.4" cy="465.8" r="1.55"/><circle cx="555.9" cy="463.5" r="1.55"/><circle cx="548.9" cy="474.5" r="1.55"/><circle cx="520.6" cy="464.6" r="1.55"/><circle cx="547.2" cy="482.2" r="1.55"/><circle cx="567.0" cy="486.1" r="1.55"/><circle cx="556.3" cy="477.0" r="1.55"/><circle cx="538.0" cy="475.6" r="1.55"/><circle cx="540.0" cy="481.8" r="1.55"/><circle cx="534.6" cy="483.4" r="1.55"/><circle cx="542.6" cy="458.2" r="1.55"/><circle cx="549.4" cy="476.6" r="1.55"/><circle cx="528.1" cy="482.7" r="1.55"/><circle cx="560.8" cy="454.9" r="1.55"/><circle cx="560.5" cy="469.8" r="1.55"/><circle cx="556.2" cy="473.3" r="1.55"/><circle cx="544.8" cy="466.3" r="1.55"/><circle cx="547.4" cy="476.3" r="1.55"/><circle cx="534.3" cy="460.0" r="1.55"/><circle cx="548.0" cy="481.8" r="1.55"/><circle cx="545.7" cy="480.2" r="1.55"/><circle cx="520.1" cy="472.0" r="1.55"/><circle cx="559.9" cy="476.4" r="1.55"/><circle cx="574.3" cy="461.3" r="1.55"/><circle cx="540.3" cy="478.8" r="1.55"/><circle cx="568.9" cy="476.2" r="1.55"/><circle cx="533.0" cy="469.5" r="1.55"/><circle cx="525.7" cy="467.2" r="1.55"/><circle cx="564.1" cy="464.2" r="1.55"/><circle cx="539.6" cy="468.8" r="1.55"/><circle cx="555.6" cy="432.8" r="1.55"/><circle cx="521.4" cy="470.7" r="1.55"/><circle cx="543.6" cy="469.9" r="1.55"/><circle cx="542.3" cy="465.2" r="1.55"/><circle cx="535.2" cy="473.4" r="1.55"/><circle cx="539.9" cy="449.0" r="1.55"/><circle cx="554.7" cy="462.9" r="1.55"/><circle cx="537.0" cy="475.7" r="1.55"/><circle cx="570.8" cy="465.3" r="1.55"/><circle cx="558.9" cy="475.0" r="1.55"/><circle cx="550.2" cy="482.0" r="1.55"/><circle cx="518.5" cy="468.6" r="1.55"/><circle cx="519.0" cy="482.3" r="1.55"/><circle cx="534.0" cy="456.9" r="1.55"/><circle cx="515.4" cy="459.4" r="1.55"/><circle cx="517.5" cy="463.6" r="1.55"/><circle cx="527.3" cy="472.7" r="1.55"/><circle cx="557.1" cy="475.3" r="1.55"/><circle cx="551.9" cy="462.7" r="1.55"/><circle cx="570.6" cy="469.3" r="1.55"/><circle cx="549.7" cy="453.2" r="1.55"/><circle cx="568.2" cy="476.3" r="1.55"/><circle cx="563.3" cy="463.9" r="1.55"/><circle cx="539.1" cy="476.8" r="1.55"/><circle cx="568.4" cy="470.5" r="1.55"/><circle cx="552.0" cy="483.3" r="1.55"/><circle cx="540.7" cy="475.8" r="1.55"/><circle cx="566.1" cy="467.8" r="1.55"/><circle cx="556.2" cy="474.4" r="1.55"/><circle cx="524.2" cy="472.8" r="1.55"/><circle cx="572.8" cy="457.7" r="1.55"/><circle cx="553.0" cy="471.6" r="1.55"/><circle cx="570.7" cy="462.7" r="1.55"/><circle cx="564.4" cy="486.1" r="1.55"/><circle cx="553.9" cy="467.4" r="1.55"/><circle cx="556.8" cy="467.8" r="1.55"/><circle cx="538.0" cy="482.0" r="1.55"/><circle cx="532.7" cy="480.3" r="1.55"/><circle cx="531.9" cy="465.2" r="1.55"/><circle cx="573.3" cy="473.7" r="1.55"/><circle cx="566.9" cy="475.7" r="1.55"/><circle cx="530.4" cy="467.2" r="1.55"/><circle cx="548.2" cy="473.6" r="1.55"/><circle cx="521.8" cy="468.0" r="1.55"/><circle cx="539.7" cy="477.3" r="1.55"/><circle cx="542.2" cy="469.3" r="1.55"/><circle cx="542.9" cy="463.8" r="1.55"/><circle cx="569.5" cy="469.1" r="1.55"/><circle cx="538.2" cy="486.1" r="1.55"/><circle cx="553.0" cy="466.8" r="1.55"/><circle cx="533.7" cy="470.9" r="1.55"/><circle cx="521.8" cy="477.6" r="1.55"/><circle cx="556.8" cy="461.7" r="1.55"/><circle cx="518.1" cy="483.4" r="1.55"/><circle cx="561.2" cy="458.3" r="1.55"/><circle cx="517.4" cy="447.1" r="1.55"/><circle cx="553.7" cy="460.4" r="1.55"/><circle cx="519.8" cy="471.6" r="1.55"/><circle cx="533.3" cy="480.6" r="1.55"/><circle cx="540.2" cy="437.0" r="1.55"/><circle cx="550.1" cy="469.0" r="1.55"/><circle cx="550.4" cy="467.6" r="1.55"/><circle cx="551.6" cy="464.0" r="1.55"/><circle cx="521.2" cy="477.6" r="1.55"/><circle cx="552.4" cy="467.9" r="1.55"/><circle cx="545.0" cy="466.2" r="1.55"/><circle cx="520.6" cy="473.2" r="1.55"/><circle cx="538.4" cy="477.8" r="1.55"/><circle cx="519.8" cy="478.0" r="1.55"/><circle cx="553.9" cy="466.1" r="1.55"/><circle cx="531.5" cy="465.8" r="1.55"/><circle cx="551.7" cy="467.7" r="1.55"/><circle cx="546.7" cy="467.4" r="1.55"/><circle cx="540.0" cy="459.0" r="1.55"/><circle cx="550.6" cy="482.1" r="1.55"/><circle cx="527.1" cy="470.2" r="1.55"/><circle cx="558.6" cy="476.9" r="1.55"/><circle cx="536.4" cy="483.5" r="1.55"/><circle cx="515.8" cy="470.5" r="1.55"/><circle cx="563.7" cy="472.7" r="1.55"/><circle cx="565.4" cy="461.3" r="1.55"/><circle cx="552.0" cy="455.6" r="1.55"/><circle cx="562.0" cy="472.6" r="1.55"/><circle cx="543.8" cy="464.2" r="1.55"/><circle cx="570.5" cy="464.1" r="1.55"/><circle cx="546.8" cy="475.0" r="1.55"/><circle cx="545.9" cy="477.4" r="1.55"/><circle cx="539.8" cy="460.2" r="1.55"/><circle cx="524.3" cy="473.9" r="1.55"/><circle cx="541.7" cy="471.5" r="1.55"/><circle cx="524.5" cy="473.4" r="1.55"/><circle cx="534.6" cy="472.3" r="1.55"/><circle cx="566.1" cy="475.5" r="1.55"/><circle cx="544.3" cy="466.1" r="1.55"/><circle cx="551.7" cy="462.6" r="1.55"/><circle cx="536.0" cy="473.9" r="1.55"/><circle cx="561.9" cy="474.8" r="1.55"/><circle cx="531.4" cy="453.7" r="1.55"/><circle cx="554.8" cy="481.7" r="1.55"/><circle cx="538.3" cy="475.8" r="1.55"/><circle cx="567.9" cy="462.8" r="1.55"/><circle cx="525.8" cy="455.2" r="1.55"/><circle cx="562.5" cy="468.7" r="1.55"/><circle cx="548.6" cy="478.7" r="1.55"/><circle cx="570.5" cy="465.9" r="1.55"/><circle cx="538.4" cy="486.1" r="1.55"/><circle cx="566.1" cy="476.2" r="1.55"/><circle cx="558.7" cy="460.8" r="1.55"/><circle cx="531.4" cy="466.2" r="1.55"/><circle cx="518.1" cy="480.9" r="1.55"/><circle cx="553.4" cy="482.9" r="1.55"/><circle cx="524.6" cy="465.4" r="1.55"/><circle cx="570.8" cy="471.7" r="1.55"/><circle cx="527.6" cy="475.5" r="1.55"/><circle cx="539.6" cy="468.5" r="1.55"/><circle cx="561.3" cy="475.3" r="1.55"/><circle cx="534.5" cy="484.7" r="1.55"/><circle cx="553.2" cy="465.7" r="1.55"/><circle cx="551.7" cy="475.8" r="1.55"/><circle cx="550.8" cy="478.3" r="1.55"/><circle cx="525.7" cy="480.6" r="1.55"/><circle cx="558.0" cy="469.6" r="1.55"/><circle cx="555.6" cy="474.6" r="1.55"/><circle cx="516.0" cy="467.0" r="1.55"/><circle cx="551.7" cy="473.2" r="1.55"/><circle cx="546.0" cy="441.7" r="1.55"/><circle cx="516.9" cy="474.0" r="1.55"/><circle cx="542.5" cy="475.9" r="1.55"/><circle cx="562.9" cy="485.0" r="1.55"/><circle cx="536.0" cy="479.0" r="1.55"/><circle cx="568.3" cy="461.4" r="1.55"/><circle cx="549.8" cy="450.1" r="1.55"/><circle cx="527.2" cy="480.0" r="1.55"/><circle cx="566.6" cy="478.5" r="1.55"/><circle cx="538.2" cy="469.0" r="1.55"/><circle cx="551.6" cy="468.0" r="1.55"/><circle cx="559.2" cy="476.0" r="1.55"/><circle cx="566.9" cy="455.2" r="1.55"/><circle cx="527.6" cy="478.0" r="1.55"/><circle cx="537.8" cy="473.4" r="1.55"/><circle cx="545.2" cy="461.3" r="1.55"/><circle cx="518.6" cy="450.1" r="1.55"/><circle cx="531.7" cy="460.4" r="1.55"/><circle cx="568.0" cy="473.1" r="1.55"/><circle cx="539.3" cy="468.2" r="1.55"/><circle cx="572.1" cy="463.7" r="1.55"/><circle cx="543.8" cy="468.0" r="1.55"/><circle cx="564.8" cy="476.5" r="1.55"/><circle cx="535.5" cy="468.9" r="1.55"/><circle cx="556.8" cy="433.4" r="1.55"/><circle cx="572.1" cy="476.3" r="1.55"/><circle cx="548.5" cy="476.8" r="1.55"/><circle cx="566.6" cy="467.8" r="1.55"/><circle cx="549.3" cy="468.8" r="1.55"/><circle cx="571.0" cy="432.8" r="1.55"/><circle cx="555.9" cy="470.7" r="1.55"/><circle cx="560.7" cy="475.8" r="1.55"/><circle cx="521.8" cy="474.4" r="1.55"/><circle cx="540.0" cy="458.1" r="1.55"/><circle cx="553.5" cy="477.9" r="1.55"/><circle cx="533.2" cy="475.2" r="1.55"/><circle cx="544.5" cy="474.7" r="1.55"/><circle cx="555.8" cy="463.6" r="1.55"/><circle cx="553.8" cy="479.8" r="1.55"/><circle cx="523.5" cy="471.6" r="1.55"/><circle cx="545.1" cy="475.4" r="1.55"/><circle cx="535.4" cy="459.7" r="1.55"/><circle cx="537.7" cy="469.5" r="1.55"/><circle cx="530.2" cy="473.9" r="1.55"/><circle cx="542.3" cy="456.3" r="1.55"/><circle cx="548.6" cy="468.5" r="1.55"/><circle cx="547.7" cy="474.6" r="1.55"/><circle cx="527.3" cy="460.7" r="1.55"/><circle cx="566.1" cy="466.4" r="1.55"/><circle cx="533.4" cy="459.3" r="1.55"/><circle cx="524.3" cy="463.3" r="1.55"/><circle cx="540.0" cy="465.9" r="1.55"/><circle cx="521.8" cy="470.4" r="1.55"/><circle cx="517.9" cy="478.8" r="1.55"/><circle cx="553.5" cy="466.4" r="1.55"/><circle cx="532.9" cy="470.8" r="1.55"/><circle cx="554.0" cy="466.6" r="1.55"/><circle cx="546.3" cy="471.3" r="1.55"/><circle cx="534.0" cy="476.0" r="1.55"/><circle cx="556.2" cy="478.2" r="1.55"/><circle cx="568.2" cy="466.4" r="1.55"/><circle cx="523.6" cy="462.3" r="1.55"/><circle cx="549.9" cy="473.3" r="1.55"/><circle cx="530.5" cy="468.1" r="1.55"/><circle cx="570.6" cy="461.7" r="1.55"/><circle cx="545.2" cy="477.0" r="1.55"/><circle cx="542.0" cy="473.6" r="1.55"/><circle cx="531.6" cy="479.0" r="1.55"/><circle cx="538.7" cy="463.1" r="1.55"/><circle cx="554.2" cy="469.4" r="1.55"/><circle cx="529.9" cy="474.4" r="1.55"/><circle cx="529.9" cy="482.7" r="1.55"/><circle cx="555.7" cy="472.5" r="1.55"/><circle cx="531.9" cy="464.3" r="1.55"/><circle cx="568.9" cy="473.3" r="1.55"/><circle cx="519.7" cy="474.2" r="1.55"/><circle cx="552.0" cy="466.8" r="1.55"/><circle cx="518.5" cy="479.8" r="1.55"/><circle cx="518.9" cy="468.1" r="1.55"/><circle cx="540.7" cy="467.1" r="1.55"/><circle cx="552.5" cy="476.6" r="1.55"/><circle cx="532.2" cy="477.0" r="1.55"/><circle cx="527.9" cy="469.5" r="1.55"/><circle cx="549.9" cy="471.9" r="1.55"/><circle cx="571.4" cy="472.9" r="1.55"/><circle cx="530.8" cy="469.8" r="1.55"/><circle cx="542.7" cy="469.7" r="1.55"/><circle cx="538.9" cy="477.6" r="1.55"/><circle cx="518.5" cy="475.8" r="1.55"/><circle cx="546.3" cy="452.5" r="1.55"/><circle cx="564.6" cy="451.4" r="1.55"/><circle cx="533.3" cy="461.8" r="1.55"/></g>
<text x="531" y="511.7" font-size="11" fill="#111"><tspan font-style="italic">r</tspan> = −0.11</text>
<text x="547" y="546" font-size="11" fill="#111" text-anchor="middle">⟨<tspan font-style="italic">r</tspan><tspan font-size="8.3" dy="2.6">in</tspan><tspan dy="-2.6">⟩</tspan></text>
<text transform="translate(474,472.8) rotate(-90)" font-size="11" fill="#111" text-anchor="middle"><tspan font-family="Liberation Serif" font-style="italic">κ</tspan> (<tspan font-style="italic">r</tspan><tspan font-size="8.3" dy="2.6">hid</tspan><tspan dy="-2.6">)</tspan></text>
<text x="590.7" y="477.6" font-size="10.9" fill="#811a8c">Causal inference</text>
</svg></body></html>
